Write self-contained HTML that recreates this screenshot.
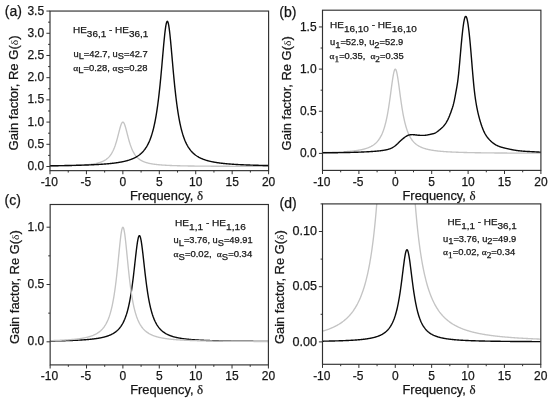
<!DOCTYPE html>
<html><head><meta charset="utf-8"><title>Gain factor</title>
<style>html,body{margin:0;padding:0;background:#fff}svg text{font-family:"Liberation Sans", sans-serif;white-space:pre;stroke:#1c1c1c;stroke-width:0.25px}</style></head>
<body>
<svg width="550" height="398" viewBox="0 0 550 398" style="display:block">
<rect width="550" height="398" fill="#fff"/>
<clipPath id="clipa"><rect x="50.00" y="11.05" width="218.60" height="159.60"/></clipPath>
<path d="M50.00 166.06 L50.36 166.06 L50.73 166.05 L51.09 166.05 L51.46 166.04 L51.82 166.04 L52.19 166.03 L52.55 166.03 L52.91 166.02 L53.28 166.02 L53.64 166.01 L54.01 166.01 L54.37 166.00 L54.74 166.00 L55.10 165.99 L55.47 165.99 L55.83 165.98 L56.19 165.98 L56.56 165.97 L56.92 165.96 L57.29 165.96 L57.65 165.95 L58.02 165.95 L58.38 165.94 L58.74 165.93 L59.11 165.93 L59.47 165.92 L59.84 165.91 L60.20 165.91 L60.57 165.90 L60.93 165.89 L61.29 165.89 L61.66 165.88 L62.02 165.87 L62.39 165.86 L62.75 165.86 L63.12 165.85 L63.48 165.84 L63.84 165.83 L64.21 165.83 L64.57 165.82 L64.94 165.81 L65.30 165.80 L65.67 165.79 L66.03 165.78 L66.39 165.77 L66.76 165.76 L67.12 165.75 L67.49 165.74 L67.85 165.73 L68.22 165.72 L68.58 165.71 L68.95 165.70 L69.31 165.69 L69.67 165.68 L70.04 165.67 L70.40 165.66 L70.77 165.65 L71.13 165.64 L71.50 165.62 L71.86 165.61 L72.22 165.60 L72.59 165.59 L72.95 165.57 L73.32 165.56 L73.68 165.55 L74.05 165.53 L74.41 165.52 L74.77 165.50 L75.14 165.49 L75.50 165.47 L75.87 165.46 L76.23 165.44 L76.60 165.43 L76.96 165.41 L77.33 165.39 L77.69 165.37 L78.05 165.36 L78.42 165.34 L78.78 165.32 L79.15 165.30 L79.51 165.28 L79.88 165.26 L80.24 165.24 L80.60 165.22 L80.97 165.20 L81.33 165.17 L81.70 165.15 L82.06 165.13 L82.43 165.10 L82.79 165.08 L83.15 165.05 L83.52 165.03 L83.88 165.00 L84.25 164.97 L84.61 164.95 L84.98 164.92 L85.34 164.89 L85.70 164.86 L86.07 164.82 L86.43 164.79 L86.80 164.76 L87.16 164.72 L87.53 164.69 L87.89 164.65 L88.25 164.62 L88.62 164.58 L88.98 164.54 L89.35 164.50 L89.71 164.45 L90.08 164.41 L90.44 164.37 L90.81 164.32 L91.17 164.27 L91.53 164.22 L91.90 164.17 L92.26 164.12 L92.63 164.06 L92.99 164.01 L93.36 163.95 L93.72 163.89 L94.08 163.83 L94.45 163.76 L94.81 163.69 L95.18 163.62 L95.54 163.55 L95.91 163.48 L96.27 163.40 L96.63 163.32 L97.00 163.24 L97.36 163.15 L97.73 163.06 L98.09 162.96 L98.46 162.87 L98.82 162.76 L99.19 162.66 L99.55 162.55 L99.91 162.43 L100.28 162.31 L100.64 162.19 L101.01 162.06 L101.37 161.92 L101.74 161.78 L102.10 161.63 L102.46 161.48 L102.83 161.31 L103.19 161.14 L103.56 160.96 L103.92 160.78 L104.29 160.58 L104.65 160.37 L105.01 160.16 L105.38 159.93 L105.74 159.69 L106.11 159.44 L106.47 159.17 L106.84 158.90 L107.20 158.60 L107.56 158.29 L107.93 157.96 L108.29 157.62 L108.66 157.25 L109.02 156.87 L109.39 156.46 L109.75 156.03 L110.12 155.57 L110.48 155.08 L110.84 154.57 L111.21 154.03 L111.57 153.45 L111.94 152.84 L112.30 152.19 L112.67 151.50 L113.03 150.77 L113.39 149.99 L113.76 149.17 L114.12 148.30 L114.49 147.38 L114.85 146.40 L115.22 145.38 L115.58 144.30 L115.94 143.16 L116.31 141.96 L116.67 140.72 L117.04 139.42 L117.40 138.08 L117.77 136.69 L118.13 135.28 L118.49 133.85 L118.86 132.40 L119.22 130.97 L119.59 129.57 L119.95 128.22 L120.32 126.94 L120.68 125.76 L121.05 124.70 L121.41 123.80 L121.77 123.07 L122.14 122.53 L122.50 122.20 L122.87 122.09 L123.23 122.20 L123.60 122.53 L123.96 123.07 L124.32 123.80 L124.69 124.70 L125.05 125.76 L125.42 126.94 L125.78 128.22 L126.15 129.57 L126.51 130.97 L126.87 132.40 L127.24 133.85 L127.60 135.28 L127.97 136.69 L128.33 138.08 L128.70 139.42 L129.06 140.72 L129.42 141.96 L129.79 143.16 L130.15 144.30 L130.52 145.38 L130.88 146.40 L131.25 147.38 L131.61 148.30 L131.98 149.17 L132.34 149.99 L132.70 150.77 L133.07 151.50 L133.43 152.19 L133.80 152.84 L134.16 153.45 L134.53 154.03 L134.89 154.57 L135.25 155.08 L135.62 155.57 L135.98 156.03 L136.35 156.46 L136.71 156.87 L137.08 157.25 L137.44 157.62 L137.80 157.96 L138.17 158.29 L138.53 158.60 L138.90 158.90 L139.26 159.17 L139.63 159.44 L139.99 159.69 L140.35 159.93 L140.72 160.16 L141.08 160.37 L141.45 160.58 L141.81 160.78 L142.18 160.96 L142.54 161.14 L142.91 161.31 L143.27 161.48 L143.63 161.63 L144.00 161.78 L144.36 161.92 L144.73 162.06 L145.09 162.19 L145.46 162.31 L145.82 162.43 L146.18 162.55 L146.55 162.66 L146.91 162.76 L147.28 162.87 L147.64 162.96 L148.01 163.06 L148.37 163.15 L148.73 163.24 L149.10 163.32 L149.46 163.40 L149.83 163.48 L150.19 163.55 L150.56 163.62 L150.92 163.69 L151.28 163.76 L151.65 163.83 L152.01 163.89 L152.38 163.95 L152.74 164.01 L153.11 164.06 L153.47 164.12 L153.84 164.17 L154.20 164.22 L154.56 164.27 L154.93 164.32 L155.29 164.37 L155.66 164.41 L156.02 164.45 L156.39 164.50 L156.75 164.54 L157.11 164.58 L157.48 164.62 L157.84 164.65 L158.21 164.69 L158.57 164.72 L158.94 164.76 L159.30 164.79 L159.66 164.82 L160.03 164.86 L160.39 164.89 L160.76 164.92 L161.12 164.95 L161.49 164.97 L161.85 165.00 L162.21 165.03 L162.58 165.05 L162.94 165.08 L163.31 165.10 L163.67 165.13 L164.04 165.15 L164.40 165.17 L164.76 165.20 L165.13 165.22 L165.49 165.24 L165.86 165.26 L166.22 165.28 L166.59 165.30 L166.95 165.32 L167.32 165.34 L167.68 165.36 L168.04 165.37 L168.41 165.39 L168.77 165.41 L169.14 165.43 L169.50 165.44 L169.87 165.46 L170.23 165.47 L170.59 165.49 L170.96 165.50 L171.32 165.52 L171.69 165.53 L172.05 165.55 L172.42 165.56 L172.78 165.57 L173.14 165.59 L173.51 165.60 L173.87 165.61 L174.24 165.62 L174.60 165.64 L174.97 165.65 L175.33 165.66 L175.69 165.67 L176.06 165.68 L176.42 165.69 L176.79 165.70 L177.15 165.71 L177.52 165.72 L177.88 165.73 L178.25 165.74 L178.61 165.75 L178.97 165.76 L179.34 165.77 L179.70 165.78 L180.07 165.79 L180.43 165.80 L180.80 165.81 L181.16 165.82 L181.52 165.83 L181.89 165.83 L182.25 165.84 L182.62 165.85 L182.98 165.86 L183.35 165.86 L183.71 165.87 L184.07 165.88 L184.44 165.89 L184.80 165.89 L185.17 165.90 L185.53 165.91 L185.90 165.91 L186.26 165.92 L186.62 165.93 L186.99 165.93 L187.35 165.94 L187.72 165.95 L188.08 165.95 L188.45 165.96 L188.81 165.96 L189.18 165.97 L189.54 165.98 L189.90 165.98 L190.27 165.99 L190.63 165.99 L191.00 166.00 L191.36 166.00 L191.73 166.01 L192.09 166.01 L192.45 166.02 L192.82 166.02 L193.18 166.03 L193.55 166.03 L193.91 166.04 L194.28 166.04 L194.64 166.05 L195.00 166.05 L195.37 166.06 L195.73 166.06 L196.10 166.06 L196.46 166.07 L196.83 166.07 L197.19 166.08 L197.56 166.08 L197.92 166.09 L198.28 166.09 L198.65 166.09 L199.01 166.10 L199.38 166.10 L199.74 166.10 L200.11 166.11 L200.47 166.11 L200.83 166.12 L201.20 166.12 L201.56 166.12 L201.93 166.13 L202.29 166.13 L202.66 166.13 L203.02 166.14 L203.38 166.14 L203.75 166.14 L204.11 166.15 L204.48 166.15 L204.84 166.15 L205.21 166.15 L205.57 166.16 L205.93 166.16 L206.30 166.16 L206.66 166.17 L207.03 166.17 L207.39 166.17 L207.76 166.18 L208.12 166.18 L208.49 166.18 L208.85 166.18 L209.21 166.19 L209.58 166.19 L209.94 166.19 L210.31 166.19 L210.67 166.20 L211.04 166.20 L211.40 166.20 L211.76 166.20 L212.13 166.21 L212.49 166.21 L212.86 166.21 L213.22 166.21 L213.59 166.22 L213.95 166.22 L214.31 166.22 L214.68 166.22 L215.04 166.22 L215.41 166.23 L215.77 166.23 L216.14 166.23 L216.50 166.23 L216.86 166.23 L217.23 166.24 L217.59 166.24 L217.96 166.24 L218.32 166.24 L218.69 166.24 L219.05 166.25 L219.42 166.25 L219.78 166.25 L220.14 166.25 L220.51 166.25 L220.87 166.26 L221.24 166.26 L221.60 166.26 L221.97 166.26 L222.33 166.26 L222.69 166.26 L223.06 166.27 L223.42 166.27 L223.79 166.27 L224.15 166.27 L224.52 166.27 L224.88 166.27 L225.24 166.28 L225.61 166.28 L225.97 166.28 L226.34 166.28 L226.70 166.28 L227.07 166.28 L227.43 166.29 L227.79 166.29 L228.16 166.29 L228.52 166.29 L228.89 166.29 L229.25 166.29 L229.62 166.29 L229.98 166.30 L230.34 166.30 L230.71 166.30 L231.07 166.30 L231.44 166.30 L231.80 166.30 L232.17 166.30 L232.53 166.30 L232.90 166.31 L233.26 166.31 L233.62 166.31 L233.99 166.31 L234.35 166.31 L234.72 166.31 L235.08 166.31 L235.45 166.31 L235.81 166.32 L236.17 166.32 L236.54 166.32 L236.90 166.32 L237.27 166.32 L237.63 166.32 L238.00 166.32 L238.36 166.32 L238.72 166.33 L239.09 166.33 L239.45 166.33 L239.82 166.33 L240.18 166.33 L240.55 166.33 L240.91 166.33 L241.28 166.33 L241.64 166.33 L242.00 166.33 L242.37 166.34 L242.73 166.34 L243.10 166.34 L243.46 166.34 L243.83 166.34 L244.19 166.34 L244.55 166.34 L244.92 166.34 L245.28 166.34 L245.65 166.34 L246.01 166.35 L246.38 166.35 L246.74 166.35 L247.10 166.35 L247.47 166.35 L247.83 166.35 L248.20 166.35 L248.56 166.35 L248.93 166.35 L249.29 166.35 L249.65 166.35 L250.02 166.35 L250.38 166.36 L250.75 166.36 L251.11 166.36 L251.48 166.36 L251.84 166.36 L252.21 166.36 L252.57 166.36 L252.93 166.36 L253.30 166.36 L253.66 166.36 L254.03 166.36 L254.39 166.36 L254.76 166.36 L255.12 166.37 L255.48 166.37 L255.85 166.37 L256.21 166.37 L256.58 166.37 L256.94 166.37 L257.31 166.37 L257.67 166.37 L258.03 166.37 L258.40 166.37 L258.76 166.37 L259.13 166.37 L259.49 166.37 L259.86 166.37 L260.22 166.38 L260.58 166.38 L260.95 166.38 L261.31 166.38 L261.68 166.38 L262.04 166.38 L262.41 166.38 L262.77 166.38 L263.13 166.38 L263.50 166.38 L263.86 166.38 L264.23 166.38 L264.59 166.38 L264.96 166.38 L265.32 166.38 L265.69 166.38 L266.05 166.39 L266.41 166.39 L266.78 166.39 L267.14 166.39 L267.51 166.39 L267.87 166.39 L268.24 166.39 L268.60 166.39" fill="none" stroke="#c4c4c4" stroke-width="1.35" stroke-linejoin="round" clip-path="url(#clipa)"/>
<path d="M50.00 165.79 L50.36 165.78 L50.73 165.78 L51.09 165.77 L51.46 165.77 L51.82 165.77 L52.19 165.76 L52.55 165.76 L52.91 165.75 L53.28 165.75 L53.64 165.74 L54.01 165.74 L54.37 165.73 L54.74 165.73 L55.10 165.72 L55.47 165.72 L55.83 165.71 L56.19 165.71 L56.56 165.70 L56.92 165.70 L57.29 165.69 L57.65 165.69 L58.02 165.68 L58.38 165.68 L58.74 165.67 L59.11 165.66 L59.47 165.66 L59.84 165.65 L60.20 165.65 L60.57 165.64 L60.93 165.64 L61.29 165.63 L61.66 165.62 L62.02 165.62 L62.39 165.61 L62.75 165.61 L63.12 165.60 L63.48 165.59 L63.84 165.59 L64.21 165.58 L64.57 165.57 L64.94 165.57 L65.30 165.56 L65.67 165.55 L66.03 165.55 L66.39 165.54 L66.76 165.53 L67.12 165.53 L67.49 165.52 L67.85 165.51 L68.22 165.50 L68.58 165.50 L68.95 165.49 L69.31 165.48 L69.67 165.47 L70.04 165.47 L70.40 165.46 L70.77 165.45 L71.13 165.44 L71.50 165.44 L71.86 165.43 L72.22 165.42 L72.59 165.41 L72.95 165.40 L73.32 165.39 L73.68 165.39 L74.05 165.38 L74.41 165.37 L74.77 165.36 L75.14 165.35 L75.50 165.34 L75.87 165.33 L76.23 165.32 L76.60 165.31 L76.96 165.30 L77.33 165.29 L77.69 165.28 L78.05 165.27 L78.42 165.26 L78.78 165.25 L79.15 165.24 L79.51 165.23 L79.88 165.22 L80.24 165.21 L80.60 165.20 L80.97 165.19 L81.33 165.18 L81.70 165.17 L82.06 165.16 L82.43 165.15 L82.79 165.13 L83.15 165.12 L83.52 165.11 L83.88 165.10 L84.25 165.09 L84.61 165.07 L84.98 165.06 L85.34 165.05 L85.70 165.04 L86.07 165.02 L86.43 165.01 L86.80 165.00 L87.16 164.98 L87.53 164.97 L87.89 164.96 L88.25 164.94 L88.62 164.93 L88.98 164.91 L89.35 164.90 L89.71 164.88 L90.08 164.87 L90.44 164.85 L90.81 164.84 L91.17 164.82 L91.53 164.81 L91.90 164.79 L92.26 164.77 L92.63 164.76 L92.99 164.74 L93.36 164.72 L93.72 164.70 L94.08 164.69 L94.45 164.67 L94.81 164.65 L95.18 164.63 L95.54 164.61 L95.91 164.59 L96.27 164.58 L96.63 164.56 L97.00 164.54 L97.36 164.52 L97.73 164.49 L98.09 164.47 L98.46 164.45 L98.82 164.43 L99.19 164.41 L99.55 164.39 L99.91 164.36 L100.28 164.34 L100.64 164.32 L101.01 164.29 L101.37 164.27 L101.74 164.25 L102.10 164.22 L102.46 164.20 L102.83 164.17 L103.19 164.14 L103.56 164.12 L103.92 164.09 L104.29 164.06 L104.65 164.04 L105.01 164.01 L105.38 163.98 L105.74 163.95 L106.11 163.92 L106.47 163.89 L106.84 163.86 L107.20 163.83 L107.56 163.79 L107.93 163.76 L108.29 163.73 L108.66 163.69 L109.02 163.66 L109.39 163.62 L109.75 163.59 L110.12 163.55 L110.48 163.51 L110.84 163.48 L111.21 163.44 L111.57 163.40 L111.94 163.36 L112.30 163.32 L112.67 163.28 L113.03 163.23 L113.39 163.19 L113.76 163.15 L114.12 163.10 L114.49 163.06 L114.85 163.01 L115.22 162.96 L115.58 162.91 L115.94 162.86 L116.31 162.81 L116.67 162.76 L117.04 162.71 L117.40 162.65 L117.77 162.60 L118.13 162.54 L118.49 162.48 L118.86 162.42 L119.22 162.36 L119.59 162.30 L119.95 162.24 L120.32 162.18 L120.68 162.11 L121.05 162.04 L121.41 161.97 L121.77 161.90 L122.14 161.83 L122.50 161.76 L122.87 161.68 L123.23 161.60 L123.60 161.53 L123.96 161.44 L124.32 161.36 L124.69 161.28 L125.05 161.19 L125.42 161.10 L125.78 161.01 L126.15 160.91 L126.51 160.82 L126.87 160.72 L127.24 160.62 L127.60 160.51 L127.97 160.41 L128.33 160.30 L128.70 160.19 L129.06 160.07 L129.42 159.95 L129.79 159.83 L130.15 159.70 L130.52 159.58 L130.88 159.44 L131.25 159.31 L131.61 159.17 L131.98 159.02 L132.34 158.87 L132.70 158.72 L133.07 158.56 L133.43 158.40 L133.80 158.24 L134.16 158.06 L134.53 157.89 L134.89 157.70 L135.25 157.51 L135.62 157.32 L135.98 157.12 L136.35 156.91 L136.71 156.70 L137.08 156.48 L137.44 156.25 L137.80 156.01 L138.17 155.77 L138.53 155.51 L138.90 155.25 L139.26 154.98 L139.63 154.70 L139.99 154.41 L140.35 154.11 L140.72 153.80 L141.08 153.48 L141.45 153.14 L141.81 152.79 L142.18 152.43 L142.54 152.05 L142.91 151.66 L143.27 151.26 L143.63 150.84 L144.00 150.40 L144.36 149.94 L144.73 149.47 L145.09 148.97 L145.46 148.46 L145.82 147.92 L146.18 147.36 L146.55 146.77 L146.91 146.16 L147.28 145.52 L147.64 144.85 L148.01 144.16 L148.37 143.43 L148.73 142.66 L149.10 141.86 L149.46 141.03 L149.83 140.15 L150.19 139.23 L150.56 138.26 L150.92 137.25 L151.28 136.19 L151.65 135.07 L152.01 133.89 L152.38 132.66 L152.74 131.36 L153.11 129.99 L153.47 128.56 L153.84 127.04 L154.20 125.45 L154.56 123.77 L154.93 122.00 L155.29 120.13 L155.66 118.17 L156.02 116.10 L156.39 113.92 L156.75 111.63 L157.11 109.21 L157.48 106.67 L157.84 104.00 L158.21 101.19 L158.57 98.25 L158.94 95.16 L159.30 91.94 L159.66 88.57 L160.03 85.06 L160.39 81.42 L160.76 77.64 L161.12 73.76 L161.49 69.76 L161.85 65.69 L162.21 61.55 L162.58 57.38 L162.94 53.22 L163.31 49.09 L163.67 45.06 L164.04 41.16 L164.40 37.45 L164.76 33.99 L165.13 30.84 L165.49 28.06 L165.86 25.69 L166.22 23.79 L166.59 22.41 L166.95 21.56 L167.32 21.28 L167.68 21.56 L168.04 22.41 L168.41 23.79 L168.77 25.69 L169.14 28.06 L169.50 30.84 L169.87 33.99 L170.23 37.45 L170.59 41.16 L170.96 45.06 L171.32 49.09 L171.69 53.22 L172.05 57.38 L172.42 61.55 L172.78 65.69 L173.14 69.76 L173.51 73.76 L173.87 77.64 L174.24 81.42 L174.60 85.06 L174.97 88.57 L175.33 91.94 L175.69 95.16 L176.06 98.25 L176.42 101.19 L176.79 104.00 L177.15 106.67 L177.52 109.21 L177.88 111.63 L178.25 113.92 L178.61 116.10 L178.97 118.17 L179.34 120.13 L179.70 122.00 L180.07 123.77 L180.43 125.45 L180.80 127.04 L181.16 128.56 L181.52 129.99 L181.89 131.36 L182.25 132.66 L182.62 133.89 L182.98 135.07 L183.35 136.19 L183.71 137.25 L184.07 138.26 L184.44 139.23 L184.80 140.15 L185.17 141.03 L185.53 141.86 L185.90 142.66 L186.26 143.43 L186.62 144.16 L186.99 144.85 L187.35 145.52 L187.72 146.16 L188.08 146.77 L188.45 147.36 L188.81 147.92 L189.18 148.46 L189.54 148.97 L189.90 149.47 L190.27 149.94 L190.63 150.40 L191.00 150.84 L191.36 151.26 L191.73 151.66 L192.09 152.05 L192.45 152.43 L192.82 152.79 L193.18 153.14 L193.55 153.48 L193.91 153.80 L194.28 154.11 L194.64 154.41 L195.00 154.70 L195.37 154.98 L195.73 155.25 L196.10 155.51 L196.46 155.77 L196.83 156.01 L197.19 156.25 L197.56 156.48 L197.92 156.70 L198.28 156.91 L198.65 157.12 L199.01 157.32 L199.38 157.51 L199.74 157.70 L200.11 157.89 L200.47 158.06 L200.83 158.24 L201.20 158.40 L201.56 158.56 L201.93 158.72 L202.29 158.87 L202.66 159.02 L203.02 159.17 L203.38 159.31 L203.75 159.44 L204.11 159.58 L204.48 159.70 L204.84 159.83 L205.21 159.95 L205.57 160.07 L205.93 160.19 L206.30 160.30 L206.66 160.41 L207.03 160.51 L207.39 160.62 L207.76 160.72 L208.12 160.82 L208.49 160.91 L208.85 161.01 L209.21 161.10 L209.58 161.19 L209.94 161.28 L210.31 161.36 L210.67 161.44 L211.04 161.53 L211.40 161.60 L211.76 161.68 L212.13 161.76 L212.49 161.83 L212.86 161.90 L213.22 161.97 L213.59 162.04 L213.95 162.11 L214.31 162.18 L214.68 162.24 L215.04 162.30 L215.41 162.36 L215.77 162.42 L216.14 162.48 L216.50 162.54 L216.86 162.60 L217.23 162.65 L217.59 162.71 L217.96 162.76 L218.32 162.81 L218.69 162.86 L219.05 162.91 L219.42 162.96 L219.78 163.01 L220.14 163.06 L220.51 163.10 L220.87 163.15 L221.24 163.19 L221.60 163.23 L221.97 163.28 L222.33 163.32 L222.69 163.36 L223.06 163.40 L223.42 163.44 L223.79 163.48 L224.15 163.51 L224.52 163.55 L224.88 163.59 L225.24 163.62 L225.61 163.66 L225.97 163.69 L226.34 163.73 L226.70 163.76 L227.07 163.79 L227.43 163.83 L227.79 163.86 L228.16 163.89 L228.52 163.92 L228.89 163.95 L229.25 163.98 L229.62 164.01 L229.98 164.04 L230.34 164.06 L230.71 164.09 L231.07 164.12 L231.44 164.14 L231.80 164.17 L232.17 164.20 L232.53 164.22 L232.90 164.25 L233.26 164.27 L233.62 164.29 L233.99 164.32 L234.35 164.34 L234.72 164.36 L235.08 164.39 L235.45 164.41 L235.81 164.43 L236.17 164.45 L236.54 164.47 L236.90 164.49 L237.27 164.52 L237.63 164.54 L238.00 164.56 L238.36 164.58 L238.72 164.59 L239.09 164.61 L239.45 164.63 L239.82 164.65 L240.18 164.67 L240.55 164.69 L240.91 164.70 L241.28 164.72 L241.64 164.74 L242.00 164.76 L242.37 164.77 L242.73 164.79 L243.10 164.81 L243.46 164.82 L243.83 164.84 L244.19 164.85 L244.55 164.87 L244.92 164.88 L245.28 164.90 L245.65 164.91 L246.01 164.93 L246.38 164.94 L246.74 164.96 L247.10 164.97 L247.47 164.98 L247.83 165.00 L248.20 165.01 L248.56 165.02 L248.93 165.04 L249.29 165.05 L249.65 165.06 L250.02 165.07 L250.38 165.09 L250.75 165.10 L251.11 165.11 L251.48 165.12 L251.84 165.13 L252.21 165.15 L252.57 165.16 L252.93 165.17 L253.30 165.18 L253.66 165.19 L254.03 165.20 L254.39 165.21 L254.76 165.22 L255.12 165.23 L255.48 165.24 L255.85 165.25 L256.21 165.26 L256.58 165.27 L256.94 165.28 L257.31 165.29 L257.67 165.30 L258.03 165.31 L258.40 165.32 L258.76 165.33 L259.13 165.34 L259.49 165.35 L259.86 165.36 L260.22 165.37 L260.58 165.38 L260.95 165.39 L261.31 165.39 L261.68 165.40 L262.04 165.41 L262.41 165.42 L262.77 165.43 L263.13 165.44 L263.50 165.44 L263.86 165.45 L264.23 165.46 L264.59 165.47 L264.96 165.47 L265.32 165.48 L265.69 165.49 L266.05 165.50 L266.41 165.50 L266.78 165.51 L267.14 165.52 L267.51 165.53 L267.87 165.53 L268.24 165.54 L268.60 165.55" fill="none" stroke="#0a0a0a" stroke-width="1.4" stroke-linejoin="round" clip-path="url(#clipa)"/>
<rect x="50.00" y="11.05" width="218.60" height="159.60" fill="none" stroke="#303030" stroke-width="1.15"/>
<path d="M50.00 170.65v3.6M86.43 170.65v3.6M122.87 170.65v3.6M159.30 170.65v3.6M195.73 170.65v3.6M232.17 170.65v3.6M268.60 170.65v3.6M68.22 170.65v1.9M104.65 170.65v1.9M141.08 170.65v1.9M177.52 170.65v1.9M213.95 170.65v1.9M250.38 170.65v1.9M50.00 166.50h-3.6M50.00 144.30h-3.6M50.00 122.09h-3.6M50.00 99.89h-3.6M50.00 77.68h-3.6M50.00 55.48h-3.6M50.00 33.27h-3.6M50.00 11.06h-3.6M50.00 155.40h-1.9M50.00 133.19h-1.9M50.00 110.99h-1.9M50.00 88.78h-1.9M50.00 66.58h-1.9M50.00 44.37h-1.9M50.00 22.17h-1.9" stroke="#303030" stroke-width="1" fill="none"/>
<text x="49.30" y="186.05" text-anchor="middle" font-size="12" fill="#141414">-10</text>
<text x="85.73" y="186.05" text-anchor="middle" font-size="12" fill="#141414">-5</text>
<text x="122.87" y="186.05" text-anchor="middle" font-size="12" fill="#141414">0</text>
<text x="159.30" y="186.05" text-anchor="middle" font-size="12" fill="#141414">5</text>
<text x="195.73" y="186.05" text-anchor="middle" font-size="12" fill="#141414">10</text>
<text x="232.17" y="186.05" text-anchor="middle" font-size="12" fill="#141414">15</text>
<text x="268.60" y="186.05" text-anchor="middle" font-size="12" fill="#141414">20</text>
<text x="44.10" y="170.10" text-anchor="end" font-size="12" fill="#141414">0.0</text>
<text x="44.10" y="147.90" text-anchor="end" font-size="12" fill="#141414">0.5</text>
<text x="44.10" y="125.69" text-anchor="end" font-size="12" fill="#141414">1.0</text>
<text x="44.10" y="103.48" text-anchor="end" font-size="12" fill="#141414">1.5</text>
<text x="44.10" y="81.28" text-anchor="end" font-size="12" fill="#141414">2.0</text>
<text x="44.10" y="59.08" text-anchor="end" font-size="12" fill="#141414">2.5</text>
<text x="44.10" y="36.87" text-anchor="end" font-size="12" fill="#141414">3.0</text>
<text x="44.10" y="14.66" text-anchor="end" font-size="12" fill="#141414">3.5</text>
<text x="130.00" y="200.15" font-size="12" textLength="73" lengthAdjust="spacingAndGlyphs" fill="#141414">Frequency, <tspan font-family='"Liberation Serif", serif'>δ</tspan></text>
<text transform="translate(18.40 150.40) rotate(-90)" font-size="12.3" textLength="115.0" lengthAdjust="spacingAndGlyphs" fill="#141414">Gain factor, Re G(<tspan font-family='"Liberation Serif", serif' font-size="11" stroke-width="0">δ</tspan>)</text>
<clipPath id="clipb"><rect x="322.50" y="10.20" width="218.40" height="160.20"/></clipPath>
<path d="M322.50 152.57 L322.86 152.56 L323.23 152.55 L323.59 152.54 L323.96 152.53 L324.32 152.52 L324.68 152.51 L325.05 152.50 L325.41 152.50 L325.78 152.49 L326.14 152.48 L326.50 152.47 L326.87 152.46 L327.23 152.45 L327.60 152.44 L327.96 152.43 L328.32 152.42 L328.69 152.40 L329.05 152.39 L329.42 152.38 L329.78 152.37 L330.14 152.36 L330.51 152.35 L330.87 152.34 L331.24 152.33 L331.60 152.31 L331.96 152.30 L332.33 152.29 L332.69 152.28 L333.06 152.26 L333.42 152.25 L333.78 152.24 L334.15 152.22 L334.51 152.21 L334.88 152.19 L335.24 152.18 L335.60 152.16 L335.97 152.15 L336.33 152.13 L336.70 152.12 L337.06 152.10 L337.42 152.09 L337.79 152.07 L338.15 152.05 L338.52 152.04 L338.88 152.02 L339.24 152.00 L339.61 151.98 L339.97 151.97 L340.34 151.95 L340.70 151.93 L341.06 151.91 L341.43 151.89 L341.79 151.87 L342.16 151.85 L342.52 151.83 L342.88 151.80 L343.25 151.78 L343.61 151.76 L343.98 151.74 L344.34 151.71 L344.70 151.69 L345.07 151.67 L345.43 151.64 L345.80 151.62 L346.16 151.59 L346.52 151.56 L346.89 151.54 L347.25 151.51 L347.62 151.48 L347.98 151.45 L348.34 151.42 L348.71 151.39 L349.07 151.36 L349.44 151.33 L349.80 151.30 L350.16 151.26 L350.53 151.23 L350.89 151.19 L351.26 151.16 L351.62 151.12 L351.98 151.08 L352.35 151.05 L352.71 151.01 L353.08 150.97 L353.44 150.93 L353.80 150.88 L354.17 150.84 L354.53 150.79 L354.90 150.75 L355.26 150.70 L355.62 150.65 L355.99 150.60 L356.35 150.55 L356.72 150.50 L357.08 150.45 L357.44 150.39 L357.81 150.34 L358.17 150.28 L358.54 150.22 L358.90 150.16 L359.26 150.09 L359.63 150.03 L359.99 149.96 L360.36 149.89 L360.72 149.82 L361.08 149.75 L361.45 149.67 L361.81 149.60 L362.18 149.52 L362.54 149.43 L362.90 149.35 L363.27 149.26 L363.63 149.17 L364.00 149.07 L364.36 148.98 L364.72 148.88 L365.09 148.77 L365.45 148.67 L365.82 148.56 L366.18 148.44 L366.54 148.32 L366.91 148.20 L367.27 148.07 L367.64 147.94 L368.00 147.80 L368.36 147.66 L368.73 147.51 L369.09 147.36 L369.46 147.20 L369.82 147.04 L370.18 146.87 L370.55 146.69 L370.91 146.50 L371.28 146.31 L371.64 146.11 L372.00 145.90 L372.37 145.68 L372.73 145.45 L373.10 145.22 L373.46 144.97 L373.82 144.71 L374.19 144.44 L374.55 144.16 L374.92 143.86 L375.28 143.55 L375.64 143.23 L376.01 142.89 L376.37 142.54 L376.74 142.16 L377.10 141.77 L377.46 141.36 L377.83 140.93 L378.19 140.48 L378.56 140.00 L378.92 139.49 L379.28 138.97 L379.65 138.41 L380.01 137.82 L380.38 137.20 L380.74 136.54 L381.10 135.85 L381.47 135.11 L381.83 134.34 L382.20 133.52 L382.56 132.65 L382.92 131.73 L383.29 130.75 L383.65 129.72 L384.02 128.62 L384.38 127.46 L384.74 126.23 L385.11 124.92 L385.47 123.53 L385.84 122.06 L386.20 120.50 L386.56 118.85 L386.93 117.10 L387.29 115.26 L387.66 113.30 L388.02 111.25 L388.38 109.09 L388.75 106.83 L389.11 104.46 L389.48 102.00 L389.84 99.45 L390.20 96.82 L390.57 94.14 L390.93 91.41 L391.30 88.68 L391.66 85.96 L392.02 83.30 L392.39 80.73 L392.75 78.30 L393.12 76.06 L393.48 74.06 L393.84 72.34 L394.21 70.96 L394.57 69.93 L394.94 69.31 L395.30 69.10 L395.66 69.31 L396.03 69.93 L396.39 70.96 L396.76 72.34 L397.12 74.06 L397.48 76.06 L397.85 78.30 L398.21 80.73 L398.58 83.30 L398.94 85.96 L399.30 88.68 L399.67 91.41 L400.03 94.14 L400.40 96.82 L400.76 99.45 L401.12 102.00 L401.49 104.46 L401.85 106.83 L402.22 109.09 L402.58 111.25 L402.94 113.30 L403.31 115.26 L403.67 117.10 L404.04 118.85 L404.40 120.50 L404.76 122.06 L405.13 123.53 L405.49 124.92 L405.86 126.23 L406.22 127.46 L406.58 128.62 L406.95 129.72 L407.31 130.75 L407.68 131.73 L408.04 132.65 L408.40 133.52 L408.77 134.34 L409.13 135.11 L409.50 135.85 L409.86 136.54 L410.22 137.20 L410.59 137.82 L410.95 138.41 L411.32 138.97 L411.68 139.49 L412.04 140.00 L412.41 140.48 L412.77 140.93 L413.14 141.36 L413.50 141.77 L413.86 142.16 L414.23 142.54 L414.59 142.89 L414.96 143.23 L415.32 143.55 L415.68 143.86 L416.05 144.16 L416.41 144.44 L416.78 144.71 L417.14 144.97 L417.50 145.22 L417.87 145.45 L418.23 145.68 L418.60 145.90 L418.96 146.11 L419.32 146.31 L419.69 146.50 L420.05 146.69 L420.42 146.87 L420.78 147.04 L421.14 147.20 L421.51 147.36 L421.87 147.51 L422.24 147.66 L422.60 147.80 L422.96 147.94 L423.33 148.07 L423.69 148.20 L424.06 148.32 L424.42 148.44 L424.78 148.56 L425.15 148.67 L425.51 148.77 L425.88 148.88 L426.24 148.98 L426.60 149.07 L426.97 149.17 L427.33 149.26 L427.70 149.35 L428.06 149.43 L428.42 149.52 L428.79 149.60 L429.15 149.67 L429.52 149.75 L429.88 149.82 L430.24 149.89 L430.61 149.96 L430.97 150.03 L431.34 150.09 L431.70 150.16 L432.06 150.22 L432.43 150.28 L432.79 150.34 L433.16 150.39 L433.52 150.45 L433.88 150.50 L434.25 150.55 L434.61 150.60 L434.98 150.65 L435.34 150.70 L435.70 150.75 L436.07 150.79 L436.43 150.84 L436.80 150.88 L437.16 150.93 L437.52 150.97 L437.89 151.01 L438.25 151.05 L438.62 151.08 L438.98 151.12 L439.34 151.16 L439.71 151.19 L440.07 151.23 L440.44 151.26 L440.80 151.30 L441.16 151.33 L441.53 151.36 L441.89 151.39 L442.26 151.42 L442.62 151.45 L442.98 151.48 L443.35 151.51 L443.71 151.54 L444.08 151.56 L444.44 151.59 L444.80 151.62 L445.17 151.64 L445.53 151.67 L445.90 151.69 L446.26 151.71 L446.62 151.74 L446.99 151.76 L447.35 151.78 L447.72 151.80 L448.08 151.83 L448.44 151.85 L448.81 151.87 L449.17 151.89 L449.54 151.91 L449.90 151.93 L450.26 151.95 L450.63 151.97 L450.99 151.98 L451.36 152.00 L451.72 152.02 L452.08 152.04 L452.45 152.05 L452.81 152.07 L453.18 152.09 L453.54 152.10 L453.90 152.12 L454.27 152.13 L454.63 152.15 L455.00 152.16 L455.36 152.18 L455.72 152.19 L456.09 152.21 L456.45 152.22 L456.82 152.24 L457.18 152.25 L457.54 152.26 L457.91 152.28 L458.27 152.29 L458.64 152.30 L459.00 152.31 L459.36 152.33 L459.73 152.34 L460.09 152.35 L460.46 152.36 L460.82 152.37 L461.18 152.38 L461.55 152.39 L461.91 152.40 L462.28 152.42 L462.64 152.43 L463.00 152.44 L463.37 152.45 L463.73 152.46 L464.10 152.47 L464.46 152.48 L464.82 152.49 L465.19 152.50 L465.55 152.50 L465.92 152.51 L466.28 152.52 L466.64 152.53 L467.01 152.54 L467.37 152.55 L467.74 152.56 L468.10 152.57 L468.46 152.57 L468.83 152.58 L469.19 152.59 L469.56 152.60 L469.92 152.61 L470.28 152.61 L470.65 152.62 L471.01 152.63 L471.38 152.64 L471.74 152.64 L472.10 152.65 L472.47 152.66 L472.83 152.66 L473.20 152.67 L473.56 152.68 L473.92 152.68 L474.29 152.69 L474.65 152.70 L475.02 152.70 L475.38 152.71 L475.74 152.72 L476.11 152.72 L476.47 152.73 L476.84 152.73 L477.20 152.74 L477.56 152.74 L477.93 152.75 L478.29 152.76 L478.66 152.76 L479.02 152.77 L479.38 152.77 L479.75 152.78 L480.11 152.78 L480.48 152.79 L480.84 152.79 L481.20 152.80 L481.57 152.80 L481.93 152.81 L482.30 152.81 L482.66 152.82 L483.02 152.82 L483.39 152.83 L483.75 152.83 L484.12 152.84 L484.48 152.84 L484.84 152.85 L485.21 152.85 L485.57 152.86 L485.94 152.86 L486.30 152.86 L486.66 152.87 L487.03 152.87 L487.39 152.88 L487.76 152.88 L488.12 152.88 L488.48 152.89 L488.85 152.89 L489.21 152.90 L489.58 152.90 L489.94 152.90 L490.30 152.91 L490.67 152.91 L491.03 152.92 L491.40 152.92 L491.76 152.92 L492.12 152.93 L492.49 152.93 L492.85 152.93 L493.22 152.94 L493.58 152.94 L493.94 152.94 L494.31 152.95 L494.67 152.95 L495.04 152.95 L495.40 152.96 L495.76 152.96 L496.13 152.96 L496.49 152.97 L496.86 152.97 L497.22 152.97 L497.58 152.98 L497.95 152.98 L498.31 152.98 L498.68 152.98 L499.04 152.99 L499.40 152.99 L499.77 152.99 L500.13 153.00 L500.50 153.00 L500.86 153.00 L501.22 153.00 L501.59 153.01 L501.95 153.01 L502.32 153.01 L502.68 153.01 L503.04 153.02 L503.41 153.02 L503.77 153.02 L504.14 153.02 L504.50 153.03 L504.86 153.03 L505.23 153.03 L505.59 153.03 L505.96 153.04 L506.32 153.04 L506.68 153.04 L507.05 153.04 L507.41 153.05 L507.78 153.05 L508.14 153.05 L508.50 153.05 L508.87 153.06 L509.23 153.06 L509.60 153.06 L509.96 153.06 L510.32 153.06 L510.69 153.07 L511.05 153.07 L511.42 153.07 L511.78 153.07 L512.14 153.07 L512.51 153.08 L512.87 153.08 L513.24 153.08 L513.60 153.08 L513.96 153.08 L514.33 153.09 L514.69 153.09 L515.06 153.09 L515.42 153.09 L515.78 153.09 L516.15 153.10 L516.51 153.10 L516.88 153.10 L517.24 153.10 L517.60 153.10 L517.97 153.10 L518.33 153.11 L518.70 153.11 L519.06 153.11 L519.42 153.11 L519.79 153.11 L520.15 153.11 L520.52 153.12 L520.88 153.12 L521.24 153.12 L521.61 153.12 L521.97 153.12 L522.34 153.12 L522.70 153.13 L523.06 153.13 L523.43 153.13 L523.79 153.13 L524.16 153.13 L524.52 153.13 L524.88 153.13 L525.25 153.14 L525.61 153.14 L525.98 153.14 L526.34 153.14 L526.70 153.14 L527.07 153.14 L527.43 153.14 L527.80 153.15 L528.16 153.15 L528.52 153.15 L528.89 153.15 L529.25 153.15 L529.62 153.15 L529.98 153.15 L530.34 153.16 L530.71 153.16 L531.07 153.16 L531.44 153.16 L531.80 153.16 L532.16 153.16 L532.53 153.16 L532.89 153.16 L533.26 153.17 L533.62 153.17 L533.98 153.17 L534.35 153.17 L534.71 153.17 L535.08 153.17 L535.44 153.17 L535.80 153.17 L536.17 153.18 L536.53 153.18 L536.90 153.18 L537.26 153.18 L537.62 153.18 L537.99 153.18 L538.35 153.18 L538.72 153.18 L539.08 153.18 L539.44 153.19 L539.81 153.19 L540.17 153.19 L540.54 153.19 L540.90 153.19" fill="none" stroke="#c4c4c4" stroke-width="1.35" stroke-linejoin="round" clip-path="url(#clipb)"/>
<path d="M322.50 152.73 L322.86 152.73 L323.23 152.73 L323.59 152.73 L323.96 152.74 L324.32 152.74 L324.68 152.74 L325.05 152.74 L325.41 152.74 L325.78 152.74 L326.14 152.74 L326.50 152.75 L326.87 152.75 L327.23 152.75 L327.60 152.75 L327.96 152.75 L328.32 152.75 L328.69 152.75 L329.05 152.75 L329.42 152.74 L329.78 152.74 L330.14 152.74 L330.51 152.74 L330.87 152.74 L331.24 152.74 L331.60 152.74 L331.96 152.73 L332.33 152.73 L332.69 152.73 L333.06 152.73 L333.42 152.72 L333.78 152.72 L334.15 152.72 L334.51 152.71 L334.88 152.71 L335.24 152.71 L335.60 152.70 L335.97 152.70 L336.33 152.70 L336.70 152.69 L337.06 152.69 L337.42 152.68 L337.79 152.68 L338.15 152.67 L338.52 152.67 L338.88 152.66 L339.24 152.66 L339.61 152.65 L339.97 152.65 L340.34 152.64 L340.70 152.63 L341.06 152.63 L341.43 152.62 L341.79 152.62 L342.16 152.61 L342.52 152.60 L342.88 152.59 L343.25 152.59 L343.61 152.58 L343.98 152.57 L344.34 152.57 L344.70 152.56 L345.07 152.55 L345.43 152.54 L345.80 152.54 L346.16 152.53 L346.52 152.52 L346.89 152.51 L347.25 152.50 L347.62 152.49 L347.98 152.48 L348.34 152.48 L348.71 152.47 L349.07 152.46 L349.44 152.45 L349.80 152.44 L350.16 152.43 L350.53 152.42 L350.89 152.41 L351.26 152.40 L351.62 152.39 L351.98 152.38 L352.35 152.37 L352.71 152.36 L353.08 152.35 L353.44 152.33 L353.80 152.32 L354.17 152.31 L354.53 152.30 L354.90 152.29 L355.26 152.28 L355.62 152.27 L355.99 152.25 L356.35 152.24 L356.72 152.23 L357.08 152.22 L357.44 152.20 L357.81 152.19 L358.17 152.18 L358.54 152.16 L358.90 152.15 L359.26 152.14 L359.63 152.12 L359.99 152.11 L360.36 152.09 L360.72 152.08 L361.08 152.07 L361.45 152.05 L361.81 152.04 L362.18 152.02 L362.54 152.00 L362.90 151.99 L363.27 151.97 L363.63 151.96 L364.00 151.94 L364.36 151.92 L364.72 151.91 L365.09 151.89 L365.45 151.87 L365.82 151.85 L366.18 151.83 L366.54 151.82 L366.91 151.80 L367.27 151.78 L367.64 151.76 L368.00 151.74 L368.36 151.72 L368.73 151.70 L369.09 151.68 L369.46 151.65 L369.82 151.63 L370.18 151.61 L370.55 151.59 L370.91 151.56 L371.28 151.54 L371.64 151.52 L372.00 151.49 L372.37 151.47 L372.73 151.44 L373.10 151.42 L373.46 151.39 L373.82 151.36 L374.19 151.33 L374.55 151.31 L374.92 151.28 L375.28 151.25 L375.64 151.22 L376.01 151.18 L376.37 151.15 L376.74 151.12 L377.10 151.09 L377.46 151.05 L377.83 151.02 L378.19 150.98 L378.56 150.94 L378.92 150.91 L379.28 150.87 L379.65 150.83 L380.01 150.79 L380.38 150.74 L380.74 150.70 L381.10 150.66 L381.47 150.61 L381.83 150.56 L382.20 150.51 L382.56 150.46 L382.92 150.41 L383.29 150.35 L383.65 150.30 L384.02 150.24 L384.38 150.17 L384.74 150.11 L385.11 150.04 L385.47 149.97 L385.84 149.90 L386.20 149.82 L386.56 149.74 L386.93 149.66 L387.29 149.57 L387.66 149.48 L388.02 149.38 L388.38 149.28 L388.75 149.17 L389.11 149.06 L389.48 148.94 L389.84 148.81 L390.20 148.67 L390.57 148.53 L390.93 148.37 L391.30 148.21 L391.66 148.04 L392.02 147.86 L392.39 147.66 L392.75 147.46 L393.12 147.24 L393.48 147.01 L393.84 146.77 L394.21 146.52 L394.57 146.26 L394.94 145.99 L395.30 145.70 L395.66 145.41 L396.03 145.10 L396.39 144.78 L396.76 144.45 L397.12 144.12 L397.48 143.77 L397.85 143.42 L398.21 143.06 L398.58 142.70 L398.94 142.34 L399.30 141.98 L399.67 141.62 L400.03 141.27 L400.40 140.92 L400.76 140.58 L401.12 140.25 L401.49 139.93 L401.85 139.61 L402.22 139.30 L402.58 139.00 L402.94 138.70 L403.31 138.40 L403.67 138.11 L404.04 137.83 L404.40 137.55 L404.76 137.28 L405.13 137.02 L405.49 136.76 L405.86 136.52 L406.22 136.28 L406.58 136.06 L406.95 135.85 L407.31 135.66 L407.68 135.49 L408.04 135.33 L408.40 135.19 L408.77 135.08 L409.13 134.98 L409.50 134.89 L409.86 134.82 L410.22 134.77 L410.59 134.73 L410.95 134.70 L411.32 134.68 L411.68 134.66 L412.04 134.66 L412.41 134.66 L412.77 134.67 L413.14 134.69 L413.50 134.71 L413.86 134.74 L414.23 134.78 L414.59 134.82 L414.96 134.86 L415.32 134.90 L415.68 134.95 L416.05 134.99 L416.41 135.03 L416.78 135.07 L417.14 135.11 L417.50 135.15 L417.87 135.18 L418.23 135.21 L418.60 135.24 L418.96 135.27 L419.32 135.29 L419.69 135.31 L420.05 135.33 L420.42 135.35 L420.78 135.36 L421.14 135.38 L421.51 135.39 L421.87 135.40 L422.24 135.41 L422.60 135.42 L422.96 135.42 L423.33 135.41 L423.69 135.40 L424.06 135.39 L424.42 135.36 L424.78 135.34 L425.15 135.30 L425.51 135.26 L425.88 135.22 L426.24 135.16 L426.60 135.11 L426.97 135.05 L427.33 134.98 L427.70 134.92 L428.06 134.84 L428.42 134.77 L428.79 134.69 L429.15 134.62 L429.52 134.54 L429.88 134.45 L430.24 134.37 L430.61 134.29 L430.97 134.21 L431.34 134.12 L431.70 134.04 L432.06 133.96 L432.43 133.88 L432.79 133.80 L433.16 133.71 L433.52 133.62 L433.88 133.52 L434.25 133.40 L434.61 133.27 L434.98 133.12 L435.34 132.95 L435.70 132.76 L436.07 132.53 L436.43 132.29 L436.80 132.04 L437.16 131.76 L437.52 131.48 L437.89 131.19 L438.25 130.90 L438.62 130.61 L438.98 130.31 L439.34 130.02 L439.71 129.72 L440.07 129.42 L440.44 129.12 L440.80 128.81 L441.16 128.49 L441.53 128.17 L441.89 127.84 L442.26 127.49 L442.62 127.14 L442.98 126.76 L443.35 126.38 L443.71 125.97 L444.08 125.55 L444.44 125.10 L444.80 124.63 L445.17 124.13 L445.53 123.60 L445.90 123.05 L446.26 122.47 L446.62 121.85 L446.99 121.21 L447.35 120.53 L447.72 119.82 L448.08 119.08 L448.44 118.30 L448.81 117.49 L449.17 116.63 L449.54 115.75 L449.90 114.82 L450.26 113.87 L450.63 112.89 L450.99 111.89 L451.36 110.86 L451.72 109.82 L452.08 108.75 L452.45 107.66 L452.81 106.50 L453.18 105.26 L453.54 103.92 L453.90 102.43 L454.27 100.79 L454.63 98.98 L455.00 97.06 L455.36 95.06 L455.72 93.04 L456.09 91.05 L456.45 89.09 L456.82 87.10 L457.18 84.98 L457.54 82.63 L457.91 79.97 L458.27 76.94 L458.64 73.57 L459.00 69.90 L459.36 66.00 L459.73 61.92 L460.09 57.74 L460.46 53.52 L460.82 49.33 L461.18 45.26 L461.55 41.36 L461.91 37.62 L462.28 34.09 L462.64 30.79 L463.00 27.75 L463.37 25.00 L463.73 22.58 L464.10 20.53 L464.46 18.87 L464.82 17.63 L465.19 16.80 L465.55 16.40 L465.92 16.41 L466.28 16.81 L466.64 17.61 L467.01 18.81 L467.37 20.39 L467.74 22.35 L468.10 24.66 L468.46 27.30 L468.83 30.23 L469.19 33.43 L469.56 36.87 L469.92 40.55 L470.28 44.43 L470.65 48.52 L471.01 52.79 L471.38 57.19 L471.74 61.64 L472.10 66.09 L472.47 70.48 L472.83 74.77 L473.20 78.91 L473.56 82.86 L473.92 86.57 L474.29 90.01 L474.65 93.14 L475.02 96.00 L475.38 98.61 L475.74 101.02 L476.11 103.26 L476.47 105.35 L476.84 107.31 L477.20 109.16 L477.56 110.90 L477.93 112.54 L478.29 114.10 L478.66 115.59 L479.02 117.00 L479.38 118.36 L479.75 119.68 L480.11 120.94 L480.48 122.16 L480.84 123.33 L481.20 124.46 L481.57 125.55 L481.93 126.59 L482.30 127.58 L482.66 128.54 L483.02 129.44 L483.39 130.31 L483.75 131.12 L484.12 131.90 L484.48 132.63 L484.84 133.32 L485.21 133.98 L485.57 134.61 L485.94 135.20 L486.30 135.76 L486.66 136.30 L487.03 136.81 L487.39 137.30 L487.76 137.77 L488.12 138.22 L488.48 138.65 L488.85 139.07 L489.21 139.47 L489.58 139.86 L489.94 140.24 L490.30 140.60 L490.67 140.96 L491.03 141.30 L491.40 141.63 L491.76 141.95 L492.12 142.26 L492.49 142.56 L492.85 142.85 L493.22 143.12 L493.58 143.39 L493.94 143.65 L494.31 143.90 L494.67 144.15 L495.04 144.38 L495.40 144.60 L495.76 144.82 L496.13 145.02 L496.49 145.22 L496.86 145.40 L497.22 145.58 L497.58 145.75 L497.95 145.92 L498.31 146.07 L498.68 146.22 L499.04 146.36 L499.40 146.50 L499.77 146.63 L500.13 146.76 L500.50 146.88 L500.86 147.00 L501.22 147.11 L501.59 147.22 L501.95 147.33 L502.32 147.43 L502.68 147.53 L503.04 147.63 L503.41 147.72 L503.77 147.82 L504.14 147.91 L504.50 148.00 L504.86 148.09 L505.23 148.18 L505.59 148.27 L505.96 148.35 L506.32 148.44 L506.68 148.53 L507.05 148.61 L507.41 148.69 L507.78 148.78 L508.14 148.86 L508.50 148.94 L508.87 149.02 L509.23 149.10 L509.60 149.18 L509.96 149.26 L510.32 149.34 L510.69 149.41 L511.05 149.49 L511.42 149.56 L511.78 149.63 L512.14 149.71 L512.51 149.78 L512.87 149.84 L513.24 149.91 L513.60 149.98 L513.96 150.04 L514.33 150.10 L514.69 150.16 L515.06 150.22 L515.42 150.28 L515.78 150.34 L516.15 150.39 L516.51 150.44 L516.88 150.49 L517.24 150.54 L517.60 150.59 L517.97 150.64 L518.33 150.68 L518.70 150.72 L519.06 150.77 L519.42 150.81 L519.79 150.85 L520.15 150.88 L520.52 150.92 L520.88 150.96 L521.24 150.99 L521.61 151.02 L521.97 151.06 L522.34 151.09 L522.70 151.12 L523.06 151.15 L523.43 151.18 L523.79 151.21 L524.16 151.23 L524.52 151.26 L524.88 151.28 L525.25 151.31 L525.61 151.33 L525.98 151.36 L526.34 151.38 L526.70 151.40 L527.07 151.43 L527.43 151.45 L527.80 151.47 L528.16 151.49 L528.52 151.51 L528.89 151.53 L529.25 151.55 L529.62 151.57 L529.98 151.59 L530.34 151.61 L530.71 151.63 L531.07 151.65 L531.44 151.67 L531.80 151.69 L532.16 151.70 L532.53 151.72 L532.89 151.74 L533.26 151.76 L533.62 151.78 L533.98 151.80 L534.35 151.82 L534.71 151.84 L535.08 151.86 L535.44 151.88 L535.80 151.90 L536.17 151.92 L536.53 151.94 L536.90 151.96 L537.26 151.98 L537.62 152.00 L537.99 152.02 L538.35 152.05 L538.72 152.07 L539.08 152.09 L539.44 152.12 L539.81 152.14 L540.17 152.17 L540.54 152.19 L540.90 152.22" fill="none" stroke="#0a0a0a" stroke-width="1.4" stroke-linejoin="round" clip-path="url(#clipb)"/>
<rect x="322.50" y="10.20" width="218.40" height="160.20" fill="none" stroke="#303030" stroke-width="1.15"/>
<path d="M322.50 170.40v3.6M358.90 170.40v3.6M395.30 170.40v3.6M431.70 170.40v3.6M468.10 170.40v3.6M504.50 170.40v3.6M540.90 170.40v3.6M340.70 170.40v1.9M377.10 170.40v1.9M413.50 170.40v1.9M449.90 170.40v1.9M486.30 170.40v1.9M522.70 170.40v1.9M322.50 153.40h-3.6M322.50 111.25h-3.6M322.50 69.10h-3.6M322.50 26.95h-3.6M322.50 132.33h-1.9M322.50 90.18h-1.9M322.50 48.03h-1.9" stroke="#303030" stroke-width="1" fill="none"/>
<text x="321.80" y="185.80" text-anchor="middle" font-size="12" fill="#141414">-10</text>
<text x="358.20" y="185.80" text-anchor="middle" font-size="12" fill="#141414">-5</text>
<text x="395.30" y="185.80" text-anchor="middle" font-size="12" fill="#141414">0</text>
<text x="431.70" y="185.80" text-anchor="middle" font-size="12" fill="#141414">5</text>
<text x="468.10" y="185.80" text-anchor="middle" font-size="12" fill="#141414">10</text>
<text x="504.50" y="185.80" text-anchor="middle" font-size="12" fill="#141414">15</text>
<text x="540.90" y="185.80" text-anchor="middle" font-size="12" fill="#141414">20</text>
<text x="316.60" y="157.00" text-anchor="end" font-size="12" fill="#141414">0.0</text>
<text x="316.60" y="114.85" text-anchor="end" font-size="12" fill="#141414">0.5</text>
<text x="316.60" y="72.70" text-anchor="end" font-size="12" fill="#141414">1.0</text>
<text x="316.60" y="30.55" text-anchor="end" font-size="12" fill="#141414">1.5</text>
<text x="402.50" y="199.90" font-size="12" textLength="73" lengthAdjust="spacingAndGlyphs" fill="#141414">Frequency, <tspan font-family='"Liberation Serif", serif'>δ</tspan></text>
<text transform="translate(291.20 150.40) rotate(-90)" font-size="12.3" textLength="114.2" lengthAdjust="spacingAndGlyphs" fill="#141414">Gain factor, Re G(<tspan font-family='"Liberation Serif", serif' font-size="11" stroke-width="0">δ</tspan>)</text>
<clipPath id="clipc"><rect x="50.15" y="204.50" width="218.25" height="160.40"/></clipPath>
<path d="M50.15 341.03 L50.51 341.02 L50.88 341.02 L51.24 341.01 L51.60 341.00 L51.97 341.00 L52.33 340.99 L52.70 340.98 L53.06 340.98 L53.42 340.97 L53.79 340.96 L54.15 340.95 L54.51 340.95 L54.88 340.94 L55.24 340.93 L55.61 340.92 L55.97 340.92 L56.33 340.91 L56.70 340.90 L57.06 340.89 L57.42 340.89 L57.79 340.88 L58.15 340.87 L58.52 340.86 L58.88 340.85 L59.24 340.84 L59.61 340.84 L59.97 340.83 L60.34 340.82 L60.70 340.81 L61.06 340.80 L61.43 340.79 L61.79 340.78 L62.15 340.77 L62.52 340.76 L62.88 340.75 L63.25 340.74 L63.61 340.73 L63.97 340.72 L64.34 340.71 L64.70 340.70 L65.06 340.69 L65.43 340.68 L65.79 340.67 L66.16 340.66 L66.52 340.65 L66.88 340.63 L67.25 340.62 L67.61 340.61 L67.97 340.60 L68.34 340.59 L68.70 340.57 L69.06 340.56 L69.43 340.55 L69.79 340.54 L70.16 340.52 L70.52 340.51 L70.88 340.50 L71.25 340.48 L71.61 340.47 L71.97 340.45 L72.34 340.44 L72.70 340.43 L73.07 340.41 L73.43 340.40 L73.79 340.38 L74.16 340.36 L74.52 340.35 L74.88 340.33 L75.25 340.32 L75.61 340.30 L75.98 340.28 L76.34 340.26 L76.70 340.25 L77.07 340.23 L77.43 340.21 L77.80 340.19 L78.16 340.17 L78.52 340.15 L78.89 340.13 L79.25 340.11 L79.61 340.09 L79.98 340.07 L80.34 340.05 L80.70 340.03 L81.07 340.01 L81.43 339.99 L81.80 339.97 L82.16 339.94 L82.52 339.92 L82.89 339.89 L83.25 339.87 L83.62 339.85 L83.98 339.82 L84.34 339.79 L84.71 339.77 L85.07 339.74 L85.43 339.71 L85.80 339.69 L86.16 339.66 L86.53 339.63 L86.89 339.60 L87.25 339.57 L87.62 339.54 L87.98 339.51 L88.34 339.48 L88.71 339.44 L89.07 339.41 L89.44 339.38 L89.80 339.34 L90.16 339.30 L90.53 339.27 L90.89 339.23 L91.25 339.19 L91.62 339.15 L91.98 339.11 L92.34 339.07 L92.71 339.03 L93.07 338.99 L93.44 338.95 L93.80 338.90 L94.16 338.86 L94.53 338.81 L94.89 338.76 L95.25 338.71 L95.62 338.66 L95.98 338.61 L96.35 338.56 L96.71 338.51 L97.07 338.45 L97.44 338.39 L97.80 338.34 L98.16 338.28 L98.53 338.22 L98.89 338.15 L99.26 338.09 L99.62 338.02 L99.98 337.96 L100.35 337.89 L100.71 337.82 L101.07 337.74 L101.44 337.67 L101.80 337.59 L102.17 337.51 L102.53 337.43 L102.89 337.35 L103.26 337.26 L103.62 337.17 L103.98 337.08 L104.35 336.99 L104.71 336.89 L105.08 336.79 L105.44 336.69 L105.80 336.58 L106.17 336.47 L106.53 336.36 L106.90 336.24 L107.26 336.13 L107.62 336.00 L107.99 335.87 L108.35 335.74 L108.71 335.61 L109.08 335.47 L109.44 335.32 L109.81 335.17 L110.17 335.02 L110.53 334.85 L110.90 334.69 L111.26 334.52 L111.62 334.34 L111.99 334.15 L112.35 333.96 L112.71 333.76 L113.08 333.56 L113.44 333.34 L113.81 333.12 L114.17 332.89 L114.53 332.65 L114.90 332.40 L115.26 332.14 L115.62 331.87 L115.99 331.59 L116.35 331.30 L116.72 330.99 L117.08 330.67 L117.44 330.34 L117.81 330.00 L118.17 329.64 L118.53 329.26 L118.90 328.87 L119.26 328.45 L119.63 328.02 L119.99 327.57 L120.35 327.10 L120.72 326.60 L121.08 326.08 L121.44 325.54 L121.81 324.97 L122.17 324.37 L122.54 323.74 L122.90 323.08 L123.26 322.38 L123.63 321.65 L123.99 320.87 L124.35 320.06 L124.72 319.20 L125.08 318.30 L125.45 317.34 L125.81 316.34 L126.17 315.27 L126.54 314.15 L126.90 312.96 L127.27 311.70 L127.63 310.37 L127.99 308.97 L128.36 307.48 L128.72 305.91 L129.08 304.25 L129.45 302.49 L129.81 300.63 L130.17 298.67 L130.54 296.59 L130.90 294.41 L131.27 292.11 L131.63 289.69 L131.99 287.14 L132.36 284.48 L132.72 281.70 L133.09 278.81 L133.45 275.81 L133.81 272.72 L134.18 269.54 L134.54 266.30 L134.90 263.03 L135.27 259.75 L135.63 256.49 L136.00 253.30 L136.36 250.22 L136.72 247.30 L137.09 244.59 L137.45 242.15 L137.81 240.03 L138.18 238.28 L138.54 236.94 L138.91 236.04 L139.27 235.60 L139.63 235.65 L140.00 236.18 L140.36 237.17 L140.72 238.60 L141.09 240.43 L141.45 242.62 L141.81 245.12 L142.18 247.87 L142.54 250.82 L142.91 253.93 L143.27 257.14 L143.63 260.40 L144.00 263.69 L144.36 266.96 L144.72 270.18 L145.09 273.34 L145.45 276.42 L145.82 279.40 L146.18 282.27 L146.54 285.02 L146.91 287.66 L147.27 290.18 L147.63 292.58 L148.00 294.85 L148.36 297.02 L148.73 299.07 L149.09 301.01 L149.45 302.85 L149.82 304.59 L150.18 306.23 L150.54 307.79 L150.91 309.26 L151.27 310.65 L151.64 311.96 L152.00 313.20 L152.36 314.38 L152.73 315.49 L153.09 316.54 L153.46 317.54 L153.82 318.48 L154.18 319.38 L154.55 320.23 L154.91 321.03 L155.27 321.80 L155.64 322.52 L156.00 323.21 L156.37 323.87 L156.73 324.49 L157.09 325.09 L157.46 325.65 L157.82 326.19 L158.18 326.70 L158.55 327.20 L158.91 327.66 L159.27 328.11 L159.64 328.54 L160.00 328.95 L160.37 329.34 L160.73 329.71 L161.09 330.07 L161.46 330.41 L161.82 330.74 L162.19 331.05 L162.55 331.36 L162.91 331.65 L163.28 331.93 L163.64 332.19 L164.00 332.45 L164.37 332.70 L164.73 332.94 L165.09 333.16 L165.46 333.39 L165.82 333.60 L166.19 333.80 L166.55 334.00 L166.91 334.19 L167.28 334.37 L167.64 334.55 L168.00 334.72 L168.37 334.89 L168.73 335.05 L169.10 335.20 L169.46 335.35 L169.82 335.49 L170.19 335.63 L170.55 335.77 L170.91 335.90 L171.28 336.03 L171.64 336.15 L172.01 336.27 L172.37 336.38 L172.73 336.50 L173.10 336.60 L173.46 336.71 L173.82 336.81 L174.19 336.91 L174.55 337.01 L174.92 337.10 L175.28 337.19 L175.64 337.28 L176.01 337.36 L176.37 337.45 L176.74 337.53 L177.10 337.61 L177.46 337.68 L177.83 337.76 L178.19 337.83 L178.55 337.90 L178.92 337.97 L179.28 338.04 L179.65 338.10 L180.01 338.17 L180.37 338.23 L180.74 338.29 L181.10 338.35 L181.46 338.41 L181.83 338.46 L182.19 338.52 L182.55 338.57 L182.92 338.62 L183.28 338.67 L183.65 338.72 L184.01 338.77 L184.37 338.82 L184.74 338.87 L185.10 338.91 L185.47 338.96 L185.83 339.00 L186.19 339.04 L186.56 339.08 L186.92 339.12 L187.28 339.16 L187.65 339.20 L188.01 339.24 L188.38 339.28 L188.74 339.31 L189.10 339.35 L189.47 339.38 L189.83 339.42 L190.19 339.45 L190.56 339.48 L190.92 339.51 L191.29 339.55 L191.65 339.58 L192.01 339.61 L192.38 339.64 L192.74 339.66 L193.10 339.69 L193.47 339.72 L193.83 339.75 L194.19 339.77 L194.56 339.80 L194.92 339.83 L195.29 339.85 L195.65 339.88 L196.01 339.90 L196.38 339.92 L196.74 339.95 L197.11 339.97 L197.47 339.99 L197.83 340.01 L198.20 340.04 L198.56 340.06 L198.92 340.08 L199.29 340.10 L199.65 340.12 L200.02 340.14 L200.38 340.16 L200.74 340.18 L201.11 340.20 L201.47 340.21 L201.83 340.23 L202.20 340.25 L202.56 340.27 L202.92 340.29 L203.29 340.30 L203.65 340.32 L204.02 340.34 L204.38 340.35 L204.74 340.37 L205.11 340.38 L205.47 340.40 L205.84 340.41 L206.20 340.43 L206.56 340.44 L206.93 340.46 L207.29 340.47 L207.65 340.49 L208.02 340.50 L208.38 340.51 L208.75 340.53 L209.11 340.54 L209.47 340.55 L209.84 340.56 L210.20 340.58 L210.56 340.59 L210.93 340.60 L211.29 340.61 L211.66 340.63 L212.02 340.64 L212.38 340.65 L212.75 340.66 L213.11 340.67 L213.47 340.68 L213.84 340.69 L214.20 340.70 L214.56 340.71 L214.93 340.72 L215.29 340.73 L215.66 340.74 L216.02 340.75 L216.38 340.76 L216.75 340.77 L217.11 340.78 L217.47 340.79 L217.84 340.80 L218.20 340.81 L218.57 340.82 L218.93 340.83 L219.29 340.84 L219.66 340.85 L220.02 340.85 L220.39 340.86 L220.75 340.87 L221.11 340.88 L221.48 340.89 L221.84 340.90 L222.20 340.90 L222.57 340.91 L222.93 340.92 L223.29 340.93 L223.66 340.93 L224.02 340.94 L224.39 340.95 L224.75 340.96 L225.11 340.96 L225.48 340.97 L225.84 340.98 L226.21 340.98 L226.57 340.99 L226.93 341.00 L227.30 341.00 L227.66 341.01 L228.02 341.02 L228.39 341.02 L228.75 341.03 L229.12 341.04 L229.48 341.04 L229.84 341.05 L230.21 341.05 L230.57 341.06 L230.93 341.07 L231.30 341.07 L231.66 341.08 L232.03 341.08 L232.39 341.09 L232.75 341.09 L233.12 341.10 L233.48 341.10 L233.84 341.11 L234.21 341.11 L234.57 341.12 L234.94 341.12 L235.30 341.13 L235.66 341.14 L236.03 341.14 L236.39 341.14 L236.75 341.15 L237.12 341.15 L237.48 341.16 L237.84 341.16 L238.21 341.17 L238.57 341.17 L238.94 341.18 L239.30 341.18 L239.66 341.19 L240.03 341.19 L240.39 341.20 L240.76 341.20 L241.12 341.20 L241.48 341.21 L241.85 341.21 L242.21 341.22 L242.57 341.22 L242.94 341.22 L243.30 341.23 L243.66 341.23 L244.03 341.24 L244.39 341.24 L244.76 341.24 L245.12 341.25 L245.48 341.25 L245.85 341.26 L246.21 341.26 L246.57 341.26 L246.94 341.27 L247.30 341.27 L247.67 341.27 L248.03 341.28 L248.39 341.28 L248.76 341.28 L249.12 341.29 L249.49 341.29 L249.85 341.29 L250.21 341.30 L250.58 341.30 L250.94 341.30 L251.30 341.31 L251.67 341.31 L252.03 341.31 L252.40 341.32 L252.76 341.32 L253.12 341.32 L253.49 341.33 L253.85 341.33 L254.21 341.33 L254.58 341.33 L254.94 341.34 L255.31 341.34 L255.67 341.34 L256.03 341.35 L256.40 341.35 L256.76 341.35 L257.12 341.35 L257.49 341.36 L257.85 341.36 L258.21 341.36 L258.58 341.37 L258.94 341.37 L259.31 341.37 L259.67 341.37 L260.03 341.38 L260.40 341.38 L260.76 341.38 L261.12 341.38 L261.49 341.39 L261.85 341.39 L262.22 341.39 L262.58 341.39 L262.94 341.40 L263.31 341.40 L263.67 341.40 L264.03 341.40 L264.40 341.40 L264.76 341.41 L265.13 341.41 L265.49 341.41 L265.85 341.41 L266.22 341.42 L266.58 341.42 L266.94 341.42 L267.31 341.42 L267.67 341.42 L268.04 341.43 L268.40 341.43" fill="none" stroke="#0a0a0a" stroke-width="1.4" stroke-linejoin="round" clip-path="url(#clipc)"/>
<path d="M50.15 340.67 L50.51 340.65 L50.88 340.64 L51.24 340.63 L51.60 340.62 L51.97 340.61 L52.33 340.59 L52.70 340.58 L53.06 340.57 L53.42 340.56 L53.79 340.54 L54.15 340.53 L54.51 340.52 L54.88 340.50 L55.24 340.49 L55.61 340.48 L55.97 340.46 L56.33 340.45 L56.70 340.43 L57.06 340.42 L57.42 340.40 L57.79 340.39 L58.15 340.37 L58.52 340.36 L58.88 340.34 L59.24 340.32 L59.61 340.31 L59.97 340.29 L60.34 340.27 L60.70 340.25 L61.06 340.24 L61.43 340.22 L61.79 340.20 L62.15 340.18 L62.52 340.16 L62.88 340.14 L63.25 340.12 L63.61 340.10 L63.97 340.08 L64.34 340.06 L64.70 340.04 L65.06 340.02 L65.43 339.99 L65.79 339.97 L66.16 339.95 L66.52 339.92 L66.88 339.90 L67.25 339.87 L67.61 339.85 L67.97 339.82 L68.34 339.80 L68.70 339.77 L69.06 339.74 L69.43 339.72 L69.79 339.69 L70.16 339.66 L70.52 339.63 L70.88 339.60 L71.25 339.57 L71.61 339.54 L71.97 339.51 L72.34 339.48 L72.70 339.44 L73.07 339.41 L73.43 339.37 L73.79 339.34 L74.16 339.30 L74.52 339.27 L74.88 339.23 L75.25 339.19 L75.61 339.15 L75.98 339.11 L76.34 339.07 L76.70 339.03 L77.07 338.98 L77.43 338.94 L77.80 338.89 L78.16 338.85 L78.52 338.80 L78.89 338.75 L79.25 338.70 L79.61 338.65 L79.98 338.60 L80.34 338.55 L80.70 338.49 L81.07 338.44 L81.43 338.38 L81.80 338.32 L82.16 338.26 L82.52 338.20 L82.89 338.13 L83.25 338.07 L83.62 338.00 L83.98 337.93 L84.34 337.86 L84.71 337.79 L85.07 337.71 L85.43 337.64 L85.80 337.56 L86.16 337.48 L86.53 337.39 L86.89 337.31 L87.25 337.22 L87.62 337.13 L87.98 337.03 L88.34 336.94 L88.71 336.84 L89.07 336.73 L89.44 336.63 L89.80 336.52 L90.16 336.41 L90.53 336.29 L90.89 336.17 L91.25 336.05 L91.62 335.92 L91.98 335.79 L92.34 335.65 L92.71 335.51 L93.07 335.37 L93.44 335.21 L93.80 335.06 L94.16 334.90 L94.53 334.73 L94.89 334.56 L95.25 334.38 L95.62 334.19 L95.98 334.00 L96.35 333.80 L96.71 333.59 L97.07 333.38 L97.44 333.15 L97.80 332.92 L98.16 332.68 L98.53 332.42 L98.89 332.16 L99.26 331.89 L99.62 331.60 L99.98 331.31 L100.35 331.00 L100.71 330.68 L101.07 330.34 L101.44 329.99 L101.80 329.62 L102.17 329.24 L102.53 328.84 L102.89 328.42 L103.26 327.98 L103.62 327.52 L103.98 327.03 L104.35 326.53 L104.71 325.99 L105.08 325.43 L105.44 324.85 L105.80 324.23 L106.17 323.58 L106.53 322.90 L106.90 322.18 L107.26 321.42 L107.62 320.62 L107.99 319.77 L108.35 318.88 L108.71 317.94 L109.08 316.94 L109.44 315.89 L109.81 314.77 L110.17 313.59 L110.53 312.34 L110.90 311.01 L111.26 309.61 L111.62 308.12 L111.99 306.54 L112.35 304.86 L112.71 303.08 L113.08 301.20 L113.44 299.20 L113.81 297.08 L114.17 294.83 L114.53 292.46 L114.90 289.94 L115.26 287.29 L115.62 284.50 L115.99 281.56 L116.35 278.49 L116.72 275.27 L117.08 271.92 L117.44 268.46 L117.81 264.89 L118.17 261.24 L118.53 257.54 L118.90 253.82 L119.26 250.12 L119.63 246.50 L119.99 243.01 L120.35 239.71 L120.72 236.66 L121.08 233.94 L121.44 231.61 L121.81 229.72 L122.17 228.33 L122.54 227.49 L122.90 227.20 L123.26 227.49 L123.63 228.33 L123.99 229.72 L124.35 231.61 L124.72 233.94 L125.08 236.66 L125.45 239.71 L125.81 243.01 L126.17 246.50 L126.54 250.12 L126.90 253.82 L127.27 257.54 L127.63 261.24 L127.99 264.89 L128.36 268.46 L128.72 271.92 L129.08 275.27 L129.45 278.49 L129.81 281.56 L130.17 284.50 L130.54 287.29 L130.90 289.94 L131.27 292.46 L131.63 294.83 L131.99 297.08 L132.36 299.20 L132.72 301.20 L133.09 303.08 L133.45 304.86 L133.81 306.54 L134.18 308.12 L134.54 309.61 L134.90 311.01 L135.27 312.34 L135.63 313.59 L136.00 314.77 L136.36 315.89 L136.72 316.94 L137.09 317.94 L137.45 318.88 L137.81 319.77 L138.18 320.62 L138.54 321.42 L138.91 322.18 L139.27 322.90 L139.63 323.58 L140.00 324.23 L140.36 324.85 L140.72 325.43 L141.09 325.99 L141.45 326.53 L141.81 327.03 L142.18 327.52 L142.54 327.98 L142.91 328.42 L143.27 328.84 L143.63 329.24 L144.00 329.62 L144.36 329.99 L144.72 330.34 L145.09 330.68 L145.45 331.00 L145.82 331.31 L146.18 331.60 L146.54 331.89 L146.91 332.16 L147.27 332.42 L147.63 332.68 L148.00 332.92 L148.36 333.15 L148.73 333.38 L149.09 333.59 L149.45 333.80 L149.82 334.00 L150.18 334.19 L150.54 334.38 L150.91 334.56 L151.27 334.73 L151.64 334.90 L152.00 335.06 L152.36 335.21 L152.73 335.37 L153.09 335.51 L153.46 335.65 L153.82 335.79 L154.18 335.92 L154.55 336.05 L154.91 336.17 L155.27 336.29 L155.64 336.41 L156.00 336.52 L156.37 336.63 L156.73 336.73 L157.09 336.84 L157.46 336.94 L157.82 337.03 L158.18 337.13 L158.55 337.22 L158.91 337.31 L159.27 337.39 L159.64 337.48 L160.00 337.56 L160.37 337.64 L160.73 337.71 L161.09 337.79 L161.46 337.86 L161.82 337.93 L162.19 338.00 L162.55 338.07 L162.91 338.13 L163.28 338.20 L163.64 338.26 L164.00 338.32 L164.37 338.38 L164.73 338.44 L165.09 338.49 L165.46 338.55 L165.82 338.60 L166.19 338.65 L166.55 338.70 L166.91 338.75 L167.28 338.80 L167.64 338.85 L168.00 338.89 L168.37 338.94 L168.73 338.98 L169.10 339.03 L169.46 339.07 L169.82 339.11 L170.19 339.15 L170.55 339.19 L170.91 339.23 L171.28 339.27 L171.64 339.30 L172.01 339.34 L172.37 339.37 L172.73 339.41 L173.10 339.44 L173.46 339.48 L173.82 339.51 L174.19 339.54 L174.55 339.57 L174.92 339.60 L175.28 339.63 L175.64 339.66 L176.01 339.69 L176.37 339.72 L176.74 339.74 L177.10 339.77 L177.46 339.80 L177.83 339.82 L178.19 339.85 L178.55 339.87 L178.92 339.90 L179.28 339.92 L179.65 339.95 L180.01 339.97 L180.37 339.99 L180.74 340.02 L181.10 340.04 L181.46 340.06 L181.83 340.08 L182.19 340.10 L182.55 340.12 L182.92 340.14 L183.28 340.16 L183.65 340.18 L184.01 340.20 L184.37 340.22 L184.74 340.24 L185.10 340.25 L185.47 340.27 L185.83 340.29 L186.19 340.31 L186.56 340.32 L186.92 340.34 L187.28 340.36 L187.65 340.37 L188.01 340.39 L188.38 340.40 L188.74 340.42 L189.10 340.43 L189.47 340.45 L189.83 340.46 L190.19 340.48 L190.56 340.49 L190.92 340.50 L191.29 340.52 L191.65 340.53 L192.01 340.54 L192.38 340.56 L192.74 340.57 L193.10 340.58 L193.47 340.59 L193.83 340.61 L194.19 340.62 L194.56 340.63 L194.92 340.64 L195.29 340.65 L195.65 340.67 L196.01 340.68 L196.38 340.69 L196.74 340.70 L197.11 340.71 L197.47 340.72 L197.83 340.73 L198.20 340.74 L198.56 340.75 L198.92 340.76 L199.29 340.77 L199.65 340.78 L200.02 340.79 L200.38 340.80 L200.74 340.81 L201.11 340.82 L201.47 340.83 L201.83 340.83 L202.20 340.84 L202.56 340.85 L202.92 340.86 L203.29 340.87 L203.65 340.88 L204.02 340.89 L204.38 340.89 L204.74 340.90 L205.11 340.91 L205.47 340.92 L205.84 340.92 L206.20 340.93 L206.56 340.94 L206.93 340.95 L207.29 340.95 L207.65 340.96 L208.02 340.97 L208.38 340.98 L208.75 340.98 L209.11 340.99 L209.47 341.00 L209.84 341.00 L210.20 341.01 L210.56 341.02 L210.93 341.02 L211.29 341.03 L211.66 341.04 L212.02 341.04 L212.38 341.05 L212.75 341.05 L213.11 341.06 L213.47 341.07 L213.84 341.07 L214.20 341.08 L214.56 341.08 L214.93 341.09 L215.29 341.09 L215.66 341.10 L216.02 341.10 L216.38 341.11 L216.75 341.12 L217.11 341.12 L217.47 341.13 L217.84 341.13 L218.20 341.14 L218.57 341.14 L218.93 341.15 L219.29 341.15 L219.66 341.16 L220.02 341.16 L220.39 341.17 L220.75 341.17 L221.11 341.17 L221.48 341.18 L221.84 341.18 L222.20 341.19 L222.57 341.19 L222.93 341.20 L223.29 341.20 L223.66 341.21 L224.02 341.21 L224.39 341.21 L224.75 341.22 L225.11 341.22 L225.48 341.23 L225.84 341.23 L226.21 341.23 L226.57 341.24 L226.93 341.24 L227.30 341.25 L227.66 341.25 L228.02 341.25 L228.39 341.26 L228.75 341.26 L229.12 341.26 L229.48 341.27 L229.84 341.27 L230.21 341.28 L230.57 341.28 L230.93 341.28 L231.30 341.29 L231.66 341.29 L232.03 341.29 L232.39 341.30 L232.75 341.30 L233.12 341.30 L233.48 341.31 L233.84 341.31 L234.21 341.31 L234.57 341.32 L234.94 341.32 L235.30 341.32 L235.66 341.32 L236.03 341.33 L236.39 341.33 L236.75 341.33 L237.12 341.34 L237.48 341.34 L237.84 341.34 L238.21 341.35 L238.57 341.35 L238.94 341.35 L239.30 341.35 L239.66 341.36 L240.03 341.36 L240.39 341.36 L240.76 341.36 L241.12 341.37 L241.48 341.37 L241.85 341.37 L242.21 341.38 L242.57 341.38 L242.94 341.38 L243.30 341.38 L243.66 341.39 L244.03 341.39 L244.39 341.39 L244.76 341.39 L245.12 341.40 L245.48 341.40 L245.85 341.40 L246.21 341.40 L246.57 341.40 L246.94 341.41 L247.30 341.41 L247.67 341.41 L248.03 341.41 L248.39 341.42 L248.76 341.42 L249.12 341.42 L249.49 341.42 L249.85 341.42 L250.21 341.43 L250.58 341.43 L250.94 341.43 L251.30 341.43 L251.67 341.44 L252.03 341.44 L252.40 341.44 L252.76 341.44 L253.12 341.44 L253.49 341.45 L253.85 341.45 L254.21 341.45 L254.58 341.45 L254.94 341.45 L255.31 341.46 L255.67 341.46 L256.03 341.46 L256.40 341.46 L256.76 341.46 L257.12 341.46 L257.49 341.47 L257.85 341.47 L258.21 341.47 L258.58 341.47 L258.94 341.47 L259.31 341.47 L259.67 341.48 L260.03 341.48 L260.40 341.48 L260.76 341.48 L261.12 341.48 L261.49 341.49 L261.85 341.49 L262.22 341.49 L262.58 341.49 L262.94 341.49 L263.31 341.49 L263.67 341.49 L264.03 341.50 L264.40 341.50 L264.76 341.50 L265.13 341.50 L265.49 341.50 L265.85 341.50 L266.22 341.51 L266.58 341.51 L266.94 341.51 L267.31 341.51 L267.67 341.51 L268.04 341.51 L268.40 341.51" fill="none" stroke="#c4c4c4" stroke-width="1.35" stroke-linejoin="round" clip-path="url(#clipc)"/>
<rect x="50.15" y="204.50" width="218.25" height="160.40" fill="none" stroke="#303030" stroke-width="1.15"/>
<path d="M50.15 364.90v3.6M86.53 364.90v3.6M122.90 364.90v3.6M159.27 364.90v3.6M195.65 364.90v3.6M232.03 364.90v3.6M268.40 364.90v3.6M68.34 364.90v1.9M104.71 364.90v1.9M141.09 364.90v1.9M177.46 364.90v1.9M213.84 364.90v1.9M250.21 364.90v1.9M50.15 341.80h-3.6M50.15 284.50h-3.6M50.15 227.20h-3.6M50.15 313.15h-1.9M50.15 255.85h-1.9" stroke="#303030" stroke-width="1" fill="none"/>
<text x="49.45" y="380.30" text-anchor="middle" font-size="12" fill="#141414">-10</text>
<text x="85.83" y="380.30" text-anchor="middle" font-size="12" fill="#141414">-5</text>
<text x="122.90" y="380.30" text-anchor="middle" font-size="12" fill="#141414">0</text>
<text x="159.27" y="380.30" text-anchor="middle" font-size="12" fill="#141414">5</text>
<text x="195.65" y="380.30" text-anchor="middle" font-size="12" fill="#141414">10</text>
<text x="232.03" y="380.30" text-anchor="middle" font-size="12" fill="#141414">15</text>
<text x="268.40" y="380.30" text-anchor="middle" font-size="12" fill="#141414">20</text>
<text x="44.25" y="345.40" text-anchor="end" font-size="12" fill="#141414">0.0</text>
<text x="44.25" y="288.10" text-anchor="end" font-size="12" fill="#141414">0.5</text>
<text x="44.25" y="230.80" text-anchor="end" font-size="12" fill="#141414">1.0</text>
<text x="130.15" y="394.40" font-size="12" textLength="73" lengthAdjust="spacingAndGlyphs" fill="#141414">Frequency, <tspan font-family='"Liberation Serif", serif'>δ</tspan></text>
<text transform="translate(18.60 344.10) rotate(-90)" font-size="12.3" textLength="114.0" lengthAdjust="spacingAndGlyphs" fill="#141414">Gain factor, Re G(<tspan font-family='"Liberation Serif", serif' font-size="11" stroke-width="0">δ</tspan>)</text>
<clipPath id="clipd"><rect x="322.50" y="203.90" width="218.30" height="160.40"/></clipPath>
<path d="M322.50 331.18 L322.86 331.08 L323.23 330.97 L323.59 330.86 L323.96 330.75 L324.32 330.64 L324.68 330.52 L325.05 330.41 L325.41 330.29 L325.77 330.17 L326.14 330.05 L326.50 329.93 L326.87 329.80 L327.23 329.67 L327.59 329.55 L327.96 329.41 L328.32 329.28 L328.69 329.15 L329.05 329.01 L329.41 328.87 L329.78 328.73 L330.14 328.58 L330.50 328.44 L330.87 328.29 L331.23 328.14 L331.60 327.98 L331.96 327.83 L332.32 327.67 L332.69 327.50 L333.05 327.34 L333.42 327.17 L333.78 327.00 L334.14 326.83 L334.51 326.65 L334.87 326.47 L335.23 326.29 L335.60 326.10 L335.96 325.91 L336.33 325.72 L336.69 325.53 L337.05 325.33 L337.42 325.12 L337.78 324.92 L338.14 324.70 L338.51 324.49 L338.87 324.27 L339.24 324.05 L339.60 323.82 L339.96 323.59 L340.33 323.35 L340.69 323.11 L341.06 322.87 L341.42 322.62 L341.78 322.36 L342.15 322.10 L342.51 321.84 L342.87 321.56 L343.24 321.29 L343.60 321.01 L343.97 320.72 L344.33 320.43 L344.69 320.13 L345.06 319.82 L345.42 319.51 L345.79 319.19 L346.15 318.86 L346.51 318.53 L346.88 318.19 L347.24 317.84 L347.60 317.49 L347.97 317.12 L348.33 316.75 L348.70 316.37 L349.06 315.99 L349.42 315.59 L349.79 315.18 L350.15 314.77 L350.52 314.34 L350.88 313.91 L351.24 313.46 L351.61 313.01 L351.97 312.54 L352.33 312.06 L352.70 311.57 L353.06 311.07 L353.43 310.56 L353.79 310.03 L354.15 309.49 L354.52 308.93 L354.88 308.37 L355.25 307.78 L355.61 307.19 L355.97 306.57 L356.34 305.94 L356.70 305.30 L357.06 304.63 L357.43 303.95 L357.79 303.25 L358.16 302.53 L358.52 301.79 L358.88 301.03 L359.25 300.24 L359.61 299.44 L359.97 298.61 L360.34 297.76 L360.70 296.88 L361.07 295.98 L361.43 295.05 L361.79 294.09 L362.16 293.10 L362.52 292.08 L362.89 291.03 L363.25 289.95 L363.61 288.83 L363.98 287.68 L364.34 286.49 L364.70 285.26 L365.07 283.99 L365.43 282.67 L365.80 281.32 L366.16 279.91 L366.52 278.46 L366.89 276.96 L367.25 275.40 L367.62 273.79 L367.98 272.13 L368.34 270.40 L368.71 268.61 L369.07 266.75 L369.43 264.82 L369.80 262.82 L370.16 260.74 L370.53 258.58 L370.89 256.34 L371.25 254.00 L371.62 251.57 L371.98 249.05 L372.35 246.42 L372.71 243.68 L373.07 240.82 L373.44 237.85 L373.80 234.74 L374.16 231.50 L374.53 228.11 L374.89 224.58 L375.26 220.88 L375.62 217.01 L375.98 212.97 L376.35 208.73 L376.71 204.29 L377.07 199.63 L377.44 194.75 L377.80 189.62 L378.17 184.24 L378.53 178.59 L378.89 172.64 L379.26 166.38 L379.62 159.80 L379.99 152.86 L380.35 145.55 L380.71 137.83 L381.08 129.69 L381.44 121.10 L381.80 112.02 L382.17 102.42 L382.53 92.27 L382.90 81.52 L383.26 70.15 L383.62 58.10 L383.99 45.33 L384.35 31.79 L384.72 17.43 L385.08 2.21 L385.44 -13.94 L385.81 -31.07 L386.17 -49.24 L386.53 -68.51 L386.90 -88.93 L387.26 -110.56 L387.63 -133.45 L387.99 -157.65 L388.35 -183.19 L388.72 -210.10 L389.08 -238.39 L389.45 -268.04 L389.81 -299.03 L390.17 -331.27 L390.54 -364.66 L390.90 -399.04 L391.26 -434.20 L391.63 -469.86 L391.99 -505.70 L392.36 -541.30 L392.72 -576.19 L393.08 -609.82 L393.45 -641.62 L393.81 -670.94 L394.18 -697.16 L394.54 -719.64 L394.90 -737.81 L395.27 -751.17 L395.63 -759.35 L395.99 -762.10 L396.36 -759.35 L396.72 -751.17 L397.09 -737.81 L397.45 -719.64 L397.81 -697.16 L398.18 -670.94 L398.54 -641.62 L398.90 -609.82 L399.27 -576.19 L399.63 -541.30 L400.00 -505.70 L400.36 -469.86 L400.72 -434.20 L401.09 -399.04 L401.45 -364.66 L401.82 -331.27 L402.18 -299.03 L402.54 -268.04 L402.91 -238.39 L403.27 -210.10 L403.63 -183.19 L404.00 -157.65 L404.36 -133.45 L404.73 -110.56 L405.09 -88.93 L405.45 -68.51 L405.82 -49.24 L406.18 -31.07 L406.55 -13.94 L406.91 2.21 L407.27 17.43 L407.64 31.79 L408.00 45.33 L408.36 58.10 L408.73 70.15 L409.09 81.52 L409.46 92.27 L409.82 102.42 L410.18 112.02 L410.55 121.10 L410.91 129.69 L411.28 137.83 L411.64 145.55 L412.00 152.86 L412.37 159.80 L412.73 166.38 L413.09 172.64 L413.46 178.59 L413.82 184.24 L414.19 189.62 L414.55 194.75 L414.91 199.63 L415.28 204.29 L415.64 208.73 L416.01 212.97 L416.37 217.01 L416.73 220.88 L417.10 224.58 L417.46 228.11 L417.82 231.50 L418.19 234.74 L418.55 237.85 L418.92 240.82 L419.28 243.68 L419.64 246.42 L420.01 249.05 L420.37 251.57 L420.74 254.00 L421.10 256.34 L421.46 258.58 L421.83 260.74 L422.19 262.82 L422.55 264.82 L422.92 266.75 L423.28 268.61 L423.65 270.40 L424.01 272.13 L424.37 273.79 L424.74 275.40 L425.10 276.96 L425.46 278.46 L425.83 279.91 L426.19 281.32 L426.56 282.67 L426.92 283.99 L427.28 285.26 L427.65 286.49 L428.01 287.68 L428.38 288.83 L428.74 289.95 L429.10 291.03 L429.47 292.08 L429.83 293.10 L430.19 294.09 L430.56 295.05 L430.92 295.98 L431.29 296.88 L431.65 297.76 L432.01 298.61 L432.38 299.44 L432.74 300.24 L433.11 301.03 L433.47 301.79 L433.83 302.53 L434.20 303.25 L434.56 303.95 L434.92 304.63 L435.29 305.30 L435.65 305.94 L436.02 306.57 L436.38 307.19 L436.74 307.78 L437.11 308.37 L437.47 308.93 L437.84 309.49 L438.20 310.03 L438.56 310.56 L438.93 311.07 L439.29 311.57 L439.65 312.06 L440.02 312.54 L440.38 313.01 L440.75 313.46 L441.11 313.91 L441.47 314.34 L441.84 314.77 L442.20 315.18 L442.56 315.59 L442.93 315.99 L443.29 316.37 L443.66 316.75 L444.02 317.12 L444.38 317.49 L444.75 317.84 L445.11 318.19 L445.48 318.53 L445.84 318.86 L446.20 319.19 L446.57 319.51 L446.93 319.82 L447.29 320.13 L447.66 320.43 L448.02 320.72 L448.39 321.01 L448.75 321.29 L449.11 321.56 L449.48 321.84 L449.84 322.10 L450.21 322.36 L450.57 322.62 L450.93 322.87 L451.30 323.11 L451.66 323.35 L452.02 323.59 L452.39 323.82 L452.75 324.05 L453.12 324.27 L453.48 324.49 L453.84 324.70 L454.21 324.92 L454.57 325.12 L454.94 325.33 L455.30 325.53 L455.66 325.72 L456.03 325.91 L456.39 326.10 L456.75 326.29 L457.12 326.47 L457.48 326.65 L457.85 326.83 L458.21 327.00 L458.57 327.17 L458.94 327.34 L459.30 327.50 L459.67 327.67 L460.03 327.83 L460.39 327.98 L460.76 328.14 L461.12 328.29 L461.48 328.44 L461.85 328.58 L462.21 328.73 L462.58 328.87 L462.94 329.01 L463.30 329.15 L463.67 329.28 L464.03 329.41 L464.39 329.55 L464.76 329.67 L465.12 329.80 L465.49 329.93 L465.85 330.05 L466.21 330.17 L466.58 330.29 L466.94 330.41 L467.31 330.52 L467.67 330.64 L468.03 330.75 L468.40 330.86 L468.76 330.97 L469.12 331.08 L469.49 331.18 L469.85 331.29 L470.22 331.39 L470.58 331.49 L470.94 331.59 L471.31 331.69 L471.67 331.79 L472.04 331.88 L472.40 331.98 L472.76 332.07 L473.13 332.16 L473.49 332.25 L473.85 332.34 L474.22 332.43 L474.58 332.52 L474.95 332.60 L475.31 332.69 L475.67 332.77 L476.04 332.85 L476.40 332.93 L476.77 333.01 L477.13 333.09 L477.49 333.17 L477.86 333.25 L478.22 333.32 L478.58 333.40 L478.95 333.47 L479.31 333.54 L479.68 333.61 L480.04 333.69 L480.40 333.76 L480.77 333.83 L481.13 333.89 L481.50 333.96 L481.86 334.03 L482.22 334.09 L482.59 334.16 L482.95 334.22 L483.31 334.29 L483.68 334.35 L484.04 334.41 L484.41 334.47 L484.77 334.53 L485.13 334.59 L485.50 334.65 L485.86 334.71 L486.22 334.77 L486.59 334.82 L486.95 334.88 L487.32 334.93 L487.68 334.99 L488.04 335.04 L488.41 335.10 L488.77 335.15 L489.14 335.20 L489.50 335.25 L489.86 335.31 L490.23 335.36 L490.59 335.41 L490.95 335.46 L491.32 335.50 L491.68 335.55 L492.05 335.60 L492.41 335.65 L492.77 335.69 L493.14 335.74 L493.50 335.79 L493.87 335.83 L494.23 335.88 L494.59 335.92 L494.96 335.96 L495.32 336.01 L495.68 336.05 L496.05 336.09 L496.41 336.13 L496.78 336.17 L497.14 336.22 L497.50 336.26 L497.87 336.30 L498.23 336.34 L498.60 336.37 L498.96 336.41 L499.32 336.45 L499.69 336.49 L500.05 336.53 L500.41 336.56 L500.78 336.60 L501.14 336.64 L501.51 336.67 L501.87 336.71 L502.23 336.74 L502.60 336.78 L502.96 336.81 L503.33 336.85 L503.69 336.88 L504.05 336.92 L504.42 336.95 L504.78 336.98 L505.14 337.02 L505.51 337.05 L505.87 337.08 L506.24 337.11 L506.60 337.14 L506.96 337.17 L507.33 337.20 L507.69 337.23 L508.05 337.26 L508.42 337.29 L508.78 337.32 L509.15 337.35 L509.51 337.38 L509.87 337.41 L510.24 337.44 L510.60 337.47 L510.97 337.50 L511.33 337.52 L511.69 337.55 L512.06 337.58 L512.42 337.60 L512.78 337.63 L513.15 337.66 L513.51 337.68 L513.88 337.71 L514.24 337.73 L514.60 337.76 L514.97 337.79 L515.33 337.81 L515.70 337.84 L516.06 337.86 L516.42 337.88 L516.79 337.91 L517.15 337.93 L517.51 337.96 L517.88 337.98 L518.24 338.00 L518.61 338.03 L518.97 338.05 L519.33 338.07 L519.70 338.09 L520.06 338.12 L520.43 338.14 L520.79 338.16 L521.15 338.18 L521.52 338.20 L521.88 338.22 L522.24 338.24 L522.61 338.27 L522.97 338.29 L523.34 338.31 L523.70 338.33 L524.06 338.35 L524.43 338.37 L524.79 338.39 L525.16 338.41 L525.52 338.43 L525.88 338.45 L526.25 338.47 L526.61 338.48 L526.97 338.50 L527.34 338.52 L527.70 338.54 L528.07 338.56 L528.43 338.58 L528.79 338.60 L529.16 338.61 L529.52 338.63 L529.88 338.65 L530.25 338.67 L530.61 338.68 L530.98 338.70 L531.34 338.72 L531.70 338.74 L532.07 338.75 L532.43 338.77 L532.80 338.79 L533.16 338.80 L533.52 338.82 L533.89 338.83 L534.25 338.85 L534.61 338.87 L534.98 338.88 L535.34 338.90 L535.71 338.91 L536.07 338.93 L536.43 338.94 L536.80 338.96 L537.16 338.97 L537.53 338.99 L537.89 339.00 L538.25 339.02 L538.62 339.03 L538.98 339.05 L539.34 339.06 L539.71 339.08 L540.07 339.09 L540.44 339.11 L540.80 339.12" fill="none" stroke="#c4c4c4" stroke-width="1.35" stroke-linejoin="round" clip-path="url(#clipd)"/>
<path d="M322.50 341.19 L322.86 341.19 L323.23 341.18 L323.59 341.18 L323.96 341.17 L324.32 341.16 L324.68 341.16 L325.05 341.15 L325.41 341.14 L325.77 341.14 L326.14 341.13 L326.50 341.12 L326.87 341.12 L327.23 341.11 L327.59 341.10 L327.96 341.09 L328.32 341.09 L328.69 341.08 L329.05 341.07 L329.41 341.06 L329.78 341.06 L330.14 341.05 L330.50 341.04 L330.87 341.03 L331.23 341.02 L331.60 341.01 L331.96 341.01 L332.32 341.00 L332.69 340.99 L333.05 340.98 L333.42 340.97 L333.78 340.96 L334.14 340.95 L334.51 340.94 L334.87 340.93 L335.23 340.92 L335.60 340.91 L335.96 340.90 L336.33 340.89 L336.69 340.88 L337.05 340.87 L337.42 340.86 L337.78 340.85 L338.14 340.84 L338.51 340.83 L338.87 340.82 L339.24 340.81 L339.60 340.79 L339.96 340.78 L340.33 340.77 L340.69 340.76 L341.06 340.75 L341.42 340.73 L341.78 340.72 L342.15 340.71 L342.51 340.69 L342.87 340.68 L343.24 340.67 L343.60 340.65 L343.97 340.64 L344.33 340.62 L344.69 340.61 L345.06 340.59 L345.42 340.58 L345.79 340.56 L346.15 340.55 L346.51 340.53 L346.88 340.52 L347.24 340.50 L347.60 340.48 L347.97 340.46 L348.33 340.45 L348.70 340.43 L349.06 340.41 L349.42 340.39 L349.79 340.37 L350.15 340.35 L350.52 340.33 L350.88 340.31 L351.24 340.29 L351.61 340.27 L351.97 340.25 L352.33 340.23 L352.70 340.21 L353.06 340.19 L353.43 340.16 L353.79 340.14 L354.15 340.12 L354.52 340.09 L354.88 340.07 L355.25 340.04 L355.61 340.02 L355.97 339.99 L356.34 339.96 L356.70 339.93 L357.06 339.91 L357.43 339.88 L357.79 339.85 L358.16 339.82 L358.52 339.79 L358.88 339.76 L359.25 339.72 L359.61 339.69 L359.97 339.66 L360.34 339.62 L360.70 339.59 L361.07 339.55 L361.43 339.52 L361.79 339.48 L362.16 339.44 L362.52 339.40 L362.89 339.36 L363.25 339.32 L363.61 339.28 L363.98 339.23 L364.34 339.19 L364.70 339.14 L365.07 339.10 L365.43 339.05 L365.80 339.00 L366.16 338.95 L366.52 338.90 L366.89 338.85 L367.25 338.79 L367.62 338.74 L367.98 338.68 L368.34 338.62 L368.71 338.56 L369.07 338.50 L369.43 338.43 L369.80 338.37 L370.16 338.30 L370.53 338.23 L370.89 338.16 L371.25 338.09 L371.62 338.01 L371.98 337.93 L372.35 337.85 L372.71 337.77 L373.07 337.69 L373.44 337.60 L373.80 337.51 L374.16 337.41 L374.53 337.32 L374.89 337.22 L375.26 337.12 L375.62 337.01 L375.98 336.90 L376.35 336.79 L376.71 336.67 L377.07 336.55 L377.44 336.43 L377.80 336.30 L378.17 336.16 L378.53 336.03 L378.89 335.88 L379.26 335.73 L379.62 335.58 L379.99 335.42 L380.35 335.26 L380.71 335.08 L381.08 334.91 L381.44 334.72 L381.80 334.53 L382.17 334.33 L382.53 334.12 L382.90 333.91 L383.26 333.68 L383.62 333.45 L383.99 333.20 L384.35 332.95 L384.72 332.68 L385.08 332.40 L385.44 332.12 L385.81 331.81 L386.17 331.50 L386.53 331.17 L386.90 330.82 L387.26 330.46 L387.63 330.08 L387.99 329.69 L388.35 329.27 L388.72 328.83 L389.08 328.38 L389.45 327.90 L389.81 327.39 L390.17 326.86 L390.54 326.30 L390.90 325.71 L391.26 325.09 L391.63 324.44 L391.99 323.75 L392.36 323.02 L392.72 322.25 L393.08 321.44 L393.45 320.59 L393.81 319.68 L394.18 318.72 L394.54 317.71 L394.90 316.63 L395.27 315.50 L395.63 314.29 L395.99 313.02 L396.36 311.66 L396.72 310.23 L397.09 308.71 L397.45 307.11 L397.81 305.41 L398.18 303.61 L398.54 301.70 L398.90 299.70 L399.27 297.58 L399.63 295.35 L400.00 293.02 L400.36 290.57 L400.72 288.02 L401.09 285.37 L401.45 282.62 L401.82 279.80 L402.18 276.92 L402.54 274.00 L402.91 271.07 L403.27 268.15 L403.63 265.30 L404.00 262.54 L404.36 259.93 L404.73 257.51 L405.09 255.34 L405.45 253.46 L405.82 251.93 L406.18 250.78 L406.55 250.03 L406.91 249.72 L407.27 249.86 L407.64 250.43 L408.00 251.42 L408.36 252.81 L408.73 254.55 L409.09 256.61 L409.46 258.93 L409.82 261.47 L410.18 264.18 L410.55 267.00 L410.91 269.90 L411.28 272.83 L411.64 275.76 L412.00 278.66 L412.37 281.50 L412.73 284.28 L413.09 286.97 L413.46 289.56 L413.82 292.05 L414.19 294.43 L414.55 296.70 L414.91 298.86 L415.28 300.91 L415.64 302.86 L416.01 304.70 L416.37 306.44 L416.73 308.08 L417.10 309.63 L417.46 311.10 L417.82 312.48 L418.19 313.79 L418.55 315.02 L418.92 316.19 L419.28 317.29 L419.64 318.32 L420.01 319.30 L420.37 320.23 L420.74 321.11 L421.10 321.94 L421.46 322.72 L421.83 323.46 L422.19 324.17 L422.55 324.83 L422.92 325.47 L423.28 326.07 L423.65 326.64 L424.01 327.18 L424.37 327.70 L424.74 328.19 L425.10 328.65 L425.46 329.10 L425.83 329.52 L426.19 329.93 L426.56 330.31 L426.92 330.68 L427.28 331.03 L427.65 331.37 L428.01 331.69 L428.38 332.00 L428.74 332.29 L429.10 332.57 L429.47 332.84 L429.83 333.10 L430.19 333.35 L430.56 333.59 L430.92 333.82 L431.29 334.04 L431.65 334.25 L432.01 334.45 L432.38 334.65 L432.74 334.83 L433.11 335.01 L433.47 335.19 L433.83 335.36 L434.20 335.52 L434.56 335.67 L434.92 335.82 L435.29 335.97 L435.65 336.11 L436.02 336.25 L436.38 336.38 L436.74 336.50 L437.11 336.62 L437.47 336.74 L437.84 336.86 L438.20 336.97 L438.56 337.07 L438.93 337.18 L439.29 337.28 L439.65 337.38 L440.02 337.47 L440.38 337.56 L440.75 337.65 L441.11 337.74 L441.47 337.82 L441.84 337.90 L442.20 337.98 L442.56 338.06 L442.93 338.13 L443.29 338.20 L443.66 338.27 L444.02 338.34 L444.38 338.41 L444.75 338.47 L445.11 338.53 L445.48 338.60 L445.84 338.66 L446.20 338.71 L446.57 338.77 L446.93 338.82 L447.29 338.88 L447.66 338.93 L448.02 338.98 L448.39 339.03 L448.75 339.08 L449.11 339.13 L449.48 339.17 L449.84 339.22 L450.21 339.26 L450.57 339.30 L450.93 339.34 L451.30 339.38 L451.66 339.42 L452.02 339.46 L452.39 339.50 L452.75 339.54 L453.12 339.57 L453.48 339.61 L453.84 339.64 L454.21 339.68 L454.57 339.71 L454.94 339.74 L455.30 339.77 L455.66 339.81 L456.03 339.84 L456.39 339.87 L456.75 339.89 L457.12 339.92 L457.48 339.95 L457.85 339.98 L458.21 340.00 L458.57 340.03 L458.94 340.06 L459.30 340.08 L459.67 340.11 L460.03 340.13 L460.39 340.15 L460.76 340.18 L461.12 340.20 L461.48 340.22 L461.85 340.24 L462.21 340.26 L462.58 340.29 L462.94 340.31 L463.30 340.33 L463.67 340.35 L464.03 340.37 L464.39 340.38 L464.76 340.40 L465.12 340.42 L465.49 340.44 L465.85 340.46 L466.21 340.47 L466.58 340.49 L466.94 340.51 L467.31 340.53 L467.67 340.54 L468.03 340.56 L468.40 340.57 L468.76 340.59 L469.12 340.60 L469.49 340.62 L469.85 340.63 L470.22 340.65 L470.58 340.66 L470.94 340.68 L471.31 340.69 L471.67 340.70 L472.04 340.72 L472.40 340.73 L472.76 340.74 L473.13 340.75 L473.49 340.77 L473.85 340.78 L474.22 340.79 L474.58 340.80 L474.95 340.81 L475.31 340.82 L475.67 340.84 L476.04 340.85 L476.40 340.86 L476.77 340.87 L477.13 340.88 L477.49 340.89 L477.86 340.90 L478.22 340.91 L478.58 340.92 L478.95 340.93 L479.31 340.94 L479.68 340.95 L480.04 340.96 L480.40 340.97 L480.77 340.98 L481.13 340.99 L481.50 340.99 L481.86 341.00 L482.22 341.01 L482.59 341.02 L482.95 341.03 L483.31 341.04 L483.68 341.04 L484.04 341.05 L484.41 341.06 L484.77 341.07 L485.13 341.08 L485.50 341.08 L485.86 341.09 L486.22 341.10 L486.59 341.11 L486.95 341.11 L487.32 341.12 L487.68 341.13 L488.04 341.13 L488.41 341.14 L488.77 341.15 L489.14 341.15 L489.50 341.16 L489.86 341.17 L490.23 341.17 L490.59 341.18 L490.95 341.19 L491.32 341.19 L491.68 341.20 L492.05 341.20 L492.41 341.21 L492.77 341.22 L493.14 341.22 L493.50 341.23 L493.87 341.23 L494.23 341.24 L494.59 341.24 L494.96 341.25 L495.32 341.25 L495.68 341.26 L496.05 341.26 L496.41 341.27 L496.78 341.27 L497.14 341.28 L497.50 341.28 L497.87 341.29 L498.23 341.29 L498.60 341.30 L498.96 341.30 L499.32 341.31 L499.69 341.31 L500.05 341.32 L500.41 341.32 L500.78 341.33 L501.14 341.33 L501.51 341.34 L501.87 341.34 L502.23 341.34 L502.60 341.35 L502.96 341.35 L503.33 341.36 L503.69 341.36 L504.05 341.36 L504.42 341.37 L504.78 341.37 L505.14 341.38 L505.51 341.38 L505.87 341.38 L506.24 341.39 L506.60 341.39 L506.96 341.39 L507.33 341.40 L507.69 341.40 L508.05 341.41 L508.42 341.41 L508.78 341.41 L509.15 341.42 L509.51 341.42 L509.87 341.42 L510.24 341.43 L510.60 341.43 L510.97 341.43 L511.33 341.44 L511.69 341.44 L512.06 341.44 L512.42 341.45 L512.78 341.45 L513.15 341.45 L513.51 341.45 L513.88 341.46 L514.24 341.46 L514.60 341.46 L514.97 341.47 L515.33 341.47 L515.70 341.47 L516.06 341.48 L516.42 341.48 L516.79 341.48 L517.15 341.48 L517.51 341.49 L517.88 341.49 L518.24 341.49 L518.61 341.49 L518.97 341.50 L519.33 341.50 L519.70 341.50 L520.06 341.50 L520.43 341.51 L520.79 341.51 L521.15 341.51 L521.52 341.51 L521.88 341.52 L522.24 341.52 L522.61 341.52 L522.97 341.52 L523.34 341.53 L523.70 341.53 L524.06 341.53 L524.43 341.53 L524.79 341.54 L525.16 341.54 L525.52 341.54 L525.88 341.54 L526.25 341.54 L526.61 341.55 L526.97 341.55 L527.34 341.55 L527.70 341.55 L528.07 341.55 L528.43 341.56 L528.79 341.56 L529.16 341.56 L529.52 341.56 L529.88 341.57 L530.25 341.57 L530.61 341.57 L530.98 341.57 L531.34 341.57 L531.70 341.57 L532.07 341.58 L532.43 341.58 L532.80 341.58 L533.16 341.58 L533.52 341.58 L533.89 341.59 L534.25 341.59 L534.61 341.59 L534.98 341.59 L535.34 341.59 L535.71 341.59 L536.07 341.60 L536.43 341.60 L536.80 341.60 L537.16 341.60 L537.53 341.60 L537.89 341.60 L538.25 341.61 L538.62 341.61 L538.98 341.61 L539.34 341.61 L539.71 341.61 L540.07 341.61 L540.44 341.62 L540.80 341.62" fill="none" stroke="#0a0a0a" stroke-width="1.4" stroke-linejoin="round" clip-path="url(#clipd)"/>
<rect x="322.50" y="203.90" width="218.30" height="160.40" fill="none" stroke="#303030" stroke-width="1.15"/>
<path d="M322.50 364.30v3.6M358.88 364.30v3.6M395.27 364.30v3.6M431.65 364.30v3.6M468.03 364.30v3.6M504.42 364.30v3.6M540.80 364.30v3.6M340.69 364.30v1.9M377.07 364.30v1.9M413.46 364.30v1.9M449.84 364.30v1.9M486.22 364.30v1.9M522.61 364.30v1.9M322.50 341.90h-3.6M322.50 286.70h-3.6M322.50 231.50h-3.6M322.50 314.30h-1.9M322.50 259.10h-1.9M322.50 203.90h-1.9" stroke="#303030" stroke-width="1" fill="none"/>
<text x="321.80" y="379.70" text-anchor="middle" font-size="12" fill="#141414">-10</text>
<text x="358.18" y="379.70" text-anchor="middle" font-size="12" fill="#141414">-5</text>
<text x="395.27" y="379.70" text-anchor="middle" font-size="12" fill="#141414">0</text>
<text x="431.65" y="379.70" text-anchor="middle" font-size="12" fill="#141414">5</text>
<text x="468.03" y="379.70" text-anchor="middle" font-size="12" fill="#141414">10</text>
<text x="504.42" y="379.70" text-anchor="middle" font-size="12" fill="#141414">15</text>
<text x="540.80" y="379.70" text-anchor="middle" font-size="12" fill="#141414">20</text>
<text x="317.00" y="345.50" text-anchor="end" font-size="12" textLength="24.5" lengthAdjust="spacingAndGlyphs" fill="#141414">0.00</text>
<text x="317.00" y="290.30" text-anchor="end" font-size="12" textLength="24.5" lengthAdjust="spacingAndGlyphs" fill="#141414">0.05</text>
<text x="317.00" y="235.10" text-anchor="end" font-size="12" textLength="24.5" lengthAdjust="spacingAndGlyphs" fill="#141414">0.10</text>
<text x="402.50" y="393.80" font-size="12" textLength="73" lengthAdjust="spacingAndGlyphs" fill="#141414">Frequency, <tspan font-family='"Liberation Serif", serif'>δ</tspan></text>
<text transform="translate(284.30 344.10) rotate(-90)" font-size="12.3" textLength="114.0" lengthAdjust="spacingAndGlyphs" fill="#141414">Gain factor, Re G(<tspan font-family='"Liberation Serif", serif' font-size="11" stroke-width="0">δ</tspan>)</text>
<text x="4.8" y="15.7" font-size="14" fill="#141414">(a)</text>
<text x="279.3" y="17.2" font-size="14" fill="#141414">(b)</text>
<text x="4.6" y="205.3" font-size="14" fill="#141414">(c)</text>
<text x="279.5" y="207.8" font-size="14" fill="#141414">(d)</text>
<text x="73.00" y="32.80" font-size="9.8" fill="#141414" textLength="75.4" lengthAdjust="spacingAndGlyphs">HE<tspan dy="4.2">36,1</tspan><tspan dy="-4.2"> - HE</tspan><tspan dy="4.2">36,1</tspan></text>
<text x="73.50" y="56.50" font-size="8.3" fill="#141414" textLength="74.1" lengthAdjust="spacingAndGlyphs">u<tspan dy="2.6">L</tspan><tspan dy="-2.6">=42.7, u</tspan><tspan dy="2.6">S</tspan><tspan dy="-2.6">=42.7</tspan></text>
<text x="73.30" y="70.60" font-size="8.3" fill="#141414" textLength="74.3" lengthAdjust="spacingAndGlyphs"><tspan dy="0" font-family='"Liberation Serif", serif'>α</tspan><tspan dy="2.6">L</tspan><tspan dy="-2.6">=0.28, </tspan><tspan dy="0" font-family='"Liberation Serif", serif'>α</tspan><tspan dy="2.6">S</tspan><tspan dy="-2.6">=0.28</tspan></text>
<text x="330.00" y="27.80" font-size="9.8" fill="#141414" textLength="86.8" lengthAdjust="spacingAndGlyphs">HE<tspan dy="4.2">16,10</tspan><tspan dy="-4.2"> - HE</tspan><tspan dy="4.2">16,10</tspan></text>
<text x="330.00" y="45.20" font-size="8.3" fill="#141414" textLength="73.2" lengthAdjust="spacingAndGlyphs">u<tspan dy="2.6">1</tspan><tspan dy="-2.6">=52.9, u</tspan><tspan dy="2.6">2</tspan><tspan dy="-2.6">=52.9</tspan></text>
<text x="329.60" y="59.40" font-size="8.3" fill="#141414" textLength="74.0" lengthAdjust="spacingAndGlyphs"><tspan dy="0" font-family='"Liberation Serif", serif'>α</tspan><tspan dy="2.6" font-family='"Liberation Serif", serif'>1</tspan><tspan dy="-2.6">=0.35,  </tspan><tspan dy="0" font-family='"Liberation Serif", serif'>α</tspan><tspan dy="2.6" font-family='"Liberation Serif", serif'>2</tspan><tspan dy="-2.6">=0.35</tspan></text>
<text x="175.00" y="226.00" font-size="9.8" fill="#141414" textLength="70.8" lengthAdjust="spacingAndGlyphs">HE<tspan dy="4.2">1,1</tspan><tspan dy="-4.2"> - HE</tspan><tspan dy="4.2">1,16</tspan></text>
<text x="173.60" y="243.00" font-size="8.3" fill="#141414" textLength="79.0" lengthAdjust="spacingAndGlyphs">u<tspan dy="2.6">L</tspan><tspan dy="-2.6">=3.76, u</tspan><tspan dy="2.6">S</tspan><tspan dy="-2.6">=49.91</tspan></text>
<text x="173.60" y="257.40" font-size="8.3" fill="#141414" textLength="78.6" lengthAdjust="spacingAndGlyphs"><tspan dy="0" font-family='"Liberation Serif", serif'>α</tspan><tspan dy="2.6">S</tspan><tspan dy="-2.6">=0.02,  </tspan><tspan dy="0" font-family='"Liberation Serif", serif'>α</tspan><tspan dy="2.6">S</tspan><tspan dy="-2.6">=0.34</tspan></text>
<text x="447.40" y="225.00" font-size="9.8" fill="#141414" textLength="69.4" lengthAdjust="spacingAndGlyphs">HE<tspan dy="4.2">1,1</tspan><tspan dy="-4.2"> - HE</tspan><tspan dy="4.2">36,1</tspan></text>
<text x="443.00" y="241.60" font-size="8.3" fill="#141414" textLength="73.2" lengthAdjust="spacingAndGlyphs">u<tspan dy="2.6">1</tspan><tspan dy="-2.6">=3.76, u</tspan><tspan dy="2.6">2</tspan><tspan dy="-2.6">=49.9</tspan></text>
<text x="443.00" y="255.00" font-size="8.3" fill="#141414" textLength="72.2" lengthAdjust="spacingAndGlyphs"><tspan dy="0" font-family='"Liberation Serif", serif'>α</tspan><tspan dy="2.6" font-family='"Liberation Serif", serif'>1</tspan><tspan dy="-2.6">=0.02, </tspan><tspan dy="0" font-family='"Liberation Serif", serif'>α</tspan><tspan dy="2.6" font-family='"Liberation Serif", serif'>2</tspan><tspan dy="-2.6">=0.34</tspan></text>
</svg>
</body></html>
